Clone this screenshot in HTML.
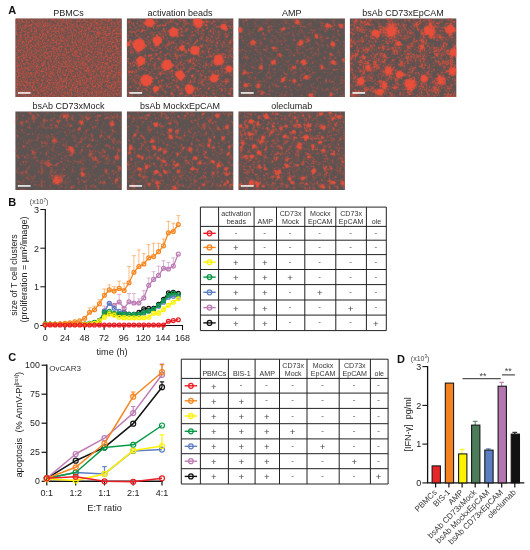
<!DOCTYPE html>
<html lang="en"><head><meta charset="utf-8"><title>Figure</title>
<style>html,body{margin:0;padding:0;background:#fff}svg{display:block}text{font-family:'Liberation Sans', sans-serif}</style>
</head><body>
<svg width="530" height="550" viewBox="0 0 530 550">
<rect width="530" height="550" fill="#fff"/>
<defs>
<radialGradient id="bh"><stop offset="0" stop-color="#000"/><stop offset="0.5" stop-color="#000"/><stop offset="0.7" stop-color="#000" stop-opacity="0.62"/><stop offset="0.85" stop-color="#000" stop-opacity="0.22"/><stop offset="1" stop-color="#000" stop-opacity="0"/></radialGradient>
<radialGradient id="bs"><stop offset="0" stop-color="#000"/><stop offset="0.25" stop-color="#000" stop-opacity="0.9"/><stop offset="0.5" stop-color="#000" stop-opacity="0.55"/><stop offset="0.75" stop-color="#000" stop-opacity="0.18"/><stop offset="1" stop-color="#000" stop-opacity="0"/></radialGradient>
</defs>
<filter id="mf0" filterUnits="userSpaceOnUse" x="14.4" y="17.5" width="108.4" height="80.5" color-interpolation-filters="sRGB">
<feTurbulence type="fractalNoise" baseFrequency="0.8" numOctaves="2" seed="3" result="n"/>
<feColorMatrix in="n" type="matrix" values="0 0 0 0 0 0 0 0 0 0 0 0 0 0 0 1 0 0 0 0" result="na"/>
<feTurbulence type="fractalNoise" baseFrequency="0.12" numOctaves="2" seed="53" result="l"/>
<feColorMatrix in="l" type="matrix" values="0 0 0 0 0 0 0 0 0 0 0 0 0 0 0 0 1 0 0 0" result="la"/>
<feComposite in="na" in2="la" operator="arithmetic" k1="0" k2="1.0" k3="0.0" k4="0" result="nl"/>
<feComposite in="nl" in2="SourceGraphic" operator="arithmetic" k1="0" k2="1" k3="0.0" k4="0" result="s"/>
<feComponentTransfer in="s" result="t"><feFuncA type="linear" slope="3.2" intercept="-1.264"/></feComponentTransfer>
<feFlood flood-color="#f34d37" flood-opacity="0.92" result="fl"/>
<feComposite in="fl" in2="t" operator="in" result="r"/>
<feConvolveMatrix in="r" order="3" kernelMatrix="1 2 1 2 14 2 1 2 1" divisor="26" edgeMode="duplicate" preserveAlpha="false"/>
</filter>
<rect x="15.4" y="18.5" width="106.4" height="78.5" fill="#595352"/>
<clipPath id="mc0"><rect x="15.4" y="18.5" width="106.4" height="78.5"/></clipPath>
<g clip-path="url(#mc0)"><g filter="url(#mf0)">
<rect x="14.4" y="17.5" width="108.4" height="80.5" fill="#000" fill-opacity="0.004"/>
</g></g>
<rect x="17.8" y="92.2" width="12.8" height="1.5" fill="#fff"/>
<text x="68.6" y="15.5" font-size="9" text-anchor="middle" fill="#222">PBMCs</text>
<filter id="mf1" filterUnits="userSpaceOnUse" x="125.9" y="17.5" width="108.4" height="80.5" color-interpolation-filters="sRGB">
<feTurbulence type="fractalNoise" baseFrequency="0.6" numOctaves="2" seed="7" result="n"/>
<feColorMatrix in="n" type="matrix" values="0 0 0 0 0 0 0 0 0 0 0 0 0 0 0 1 0 0 0 0" result="na"/>
<feTurbulence type="fractalNoise" baseFrequency="0.24" numOctaves="2" seed="57" result="l"/>
<feColorMatrix in="l" type="matrix" values="0 0 0 0 0 0 0 0 0 0 0 0 0 0 0 0 1 0 0 0" result="la"/>
<feComposite in="na" in2="la" operator="arithmetic" k1="0" k2="0.5" k3="0.3" k4="0" result="nl"/>
<feComposite in="nl" in2="SourceGraphic" operator="arithmetic" k1="0" k2="1" k3="0.4" k4="0" result="s"/>
<feComponentTransfer in="s" result="t"><feFuncA type="linear" slope="7" intercept="-2.786"/></feComponentTransfer>
<feFlood flood-color="#f34d37" flood-opacity="0.93" result="fl"/>
<feComposite in="fl" in2="t" operator="in" result="r"/>
<feConvolveMatrix in="r" order="3" kernelMatrix="1 2 1 2 14 2 1 2 1" divisor="26" edgeMode="duplicate" preserveAlpha="false"/>
</filter>
<rect x="126.9" y="18.5" width="106.4" height="78.5" fill="#595352"/>
<clipPath id="mc1"><rect x="126.9" y="18.5" width="106.4" height="78.5"/></clipPath>
<g clip-path="url(#mc1)"><g filter="url(#mf1)">
<rect x="125.9" y="17.5" width="108.4" height="80.5" fill="#000" fill-opacity="0.004"/>
<circle cx="149.4" cy="22.5" r="5.4" fill="url(#bh)"/>
<circle cx="198.2" cy="22.5" r="5.9" fill="url(#bh)"/>
<circle cx="224.0" cy="26.8" r="3.9" fill="url(#bh)"/>
<circle cx="139.0" cy="45.0" r="7.4" fill="url(#bh)"/>
<circle cx="157.3" cy="40.7" r="5.6" fill="url(#bh)"/>
<circle cx="173.9" cy="32.0" r="5.4" fill="url(#bh)"/>
<circle cx="195.0" cy="50.4" r="5.6" fill="url(#bh)"/>
<circle cx="182.0" cy="48.0" r="3.4" fill="url(#bh)"/>
<circle cx="141.0" cy="61.0" r="5.4" fill="url(#bh)"/>
<circle cx="167.0" cy="65.0" r="6.4" fill="url(#bh)"/>
<circle cx="218.6" cy="60.0" r="6.2" fill="url(#bh)"/>
<circle cx="180.0" cy="75.0" r="5.4" fill="url(#bh)"/>
<circle cx="229.4" cy="68.7" r="3.9" fill="url(#bh)"/>
<circle cx="146.6" cy="80.5" r="6.9" fill="url(#bh)"/>
<circle cx="189.6" cy="89.0" r="5.4" fill="url(#bh)"/>
<circle cx="214.0" cy="78.4" r="4.9" fill="url(#bh)"/>
<circle cx="156.0" cy="89.0" r="3.4" fill="url(#bh)"/>
<circle cx="128.0" cy="44.0" r="2.9" fill="url(#bh)"/>
</g></g>
<rect x="129.3" y="92.2" width="12.8" height="1.5" fill="#fff"/>
<text x="180.1" y="15.5" font-size="9" text-anchor="middle" fill="#222">activation beads</text>
<filter id="mf2" filterUnits="userSpaceOnUse" x="237.5" y="17.5" width="108.4" height="80.5" color-interpolation-filters="sRGB">
<feTurbulence type="fractalNoise" baseFrequency="0.65" numOctaves="2" seed="11" result="n"/>
<feColorMatrix in="n" type="matrix" values="0 0 0 0 0 0 0 0 0 0 0 0 0 0 0 1 0 0 0 0" result="na"/>
<feTurbulence type="fractalNoise" baseFrequency="0.25" numOctaves="2" seed="61" result="l"/>
<feColorMatrix in="l" type="matrix" values="0 0 0 0 0 0 0 0 0 0 0 0 0 0 0 0 1 0 0 0" result="la"/>
<feComposite in="na" in2="la" operator="arithmetic" k1="0" k2="0.5" k3="0.3" k4="0" result="nl"/>
<feComposite in="nl" in2="SourceGraphic" operator="arithmetic" k1="0" k2="1" k3="0.34" k4="0" result="s"/>
<feComponentTransfer in="s" result="t"><feFuncA type="linear" slope="5.5" intercept="-2.337"/></feComponentTransfer>
<feFlood flood-color="#f34d37" flood-opacity="0.93" result="fl"/>
<feComposite in="fl" in2="t" operator="in" result="r"/>
<feConvolveMatrix in="r" order="3" kernelMatrix="1 2 1 2 14 2 1 2 1" divisor="26" edgeMode="duplicate" preserveAlpha="false"/>
</filter>
<rect x="238.5" y="18.5" width="106.4" height="78.5" fill="#595352"/>
<clipPath id="mc2"><rect x="238.5" y="18.5" width="106.4" height="78.5"/></clipPath>
<g clip-path="url(#mc2)"><g filter="url(#mf2)">
<rect x="237.5" y="17.5" width="108.4" height="80.5" fill="#000" fill-opacity="0.004"/>
<circle cx="240.3" cy="30.0" r="4.0" fill="url(#bs)" fill-opacity="1.00"/>
<circle cx="297.3" cy="22.5" r="4.0" fill="url(#bs)" fill-opacity="1.00"/>
<circle cx="328.5" cy="25.7" r="4.6" fill="url(#bs)" fill-opacity="1.00"/>
<circle cx="341.4" cy="25.7" r="3.6" fill="url(#bs)" fill-opacity="0.98"/>
<circle cx="260.7" cy="28.9" r="3.1" fill="url(#bs)" fill-opacity="0.82"/>
<circle cx="283.3" cy="28.9" r="3.1" fill="url(#bs)" fill-opacity="0.82"/>
<circle cx="316.7" cy="36.4" r="3.6" fill="url(#bs)" fill-opacity="0.98"/>
<circle cx="253.2" cy="42.9" r="4.0" fill="url(#bs)" fill-opacity="1.00"/>
<circle cx="300.5" cy="42.9" r="4.4" fill="url(#bs)" fill-opacity="1.00"/>
<circle cx="307.0" cy="40.7" r="3.1" fill="url(#bs)" fill-opacity="0.82"/>
<circle cx="332.8" cy="44.0" r="3.6" fill="url(#bs)" fill-opacity="0.98"/>
<circle cx="273.6" cy="48.3" r="3.1" fill="url(#bs)" fill-opacity="0.82"/>
<circle cx="280.1" cy="54.7" r="3.1" fill="url(#bs)" fill-opacity="0.82"/>
<circle cx="273.6" cy="62.2" r="4.4" fill="url(#bs)" fill-opacity="1.00"/>
<circle cx="303.8" cy="62.2" r="4.4" fill="url(#bs)" fill-opacity="1.00"/>
<circle cx="333.9" cy="62.2" r="4.0" fill="url(#bs)" fill-opacity="1.00"/>
<circle cx="343.6" cy="60.1" r="3.1" fill="url(#bs)" fill-opacity="0.82"/>
<circle cx="260.7" cy="67.6" r="3.1" fill="url(#bs)" fill-opacity="0.82"/>
<circle cx="294.1" cy="67.6" r="3.1" fill="url(#bs)" fill-opacity="0.82"/>
<circle cx="244.6" cy="71.9" r="3.1" fill="url(#bs)" fill-opacity="0.82"/>
<circle cx="305.9" cy="77.3" r="4.0" fill="url(#bs)" fill-opacity="1.00"/>
<circle cx="283.3" cy="79.5" r="3.6" fill="url(#bs)" fill-opacity="0.98"/>
<circle cx="294.1" cy="80.5" r="3.1" fill="url(#bs)" fill-opacity="0.82"/>
<circle cx="245.7" cy="84.8" r="3.6" fill="url(#bs)" fill-opacity="0.98"/>
<circle cx="258.6" cy="85.9" r="3.6" fill="url(#bs)" fill-opacity="0.98"/>
<circle cx="261.8" cy="92.4" r="3.1" fill="url(#bs)" fill-opacity="0.82"/>
<circle cx="311.3" cy="95.6" r="3.6" fill="url(#bs)" fill-opacity="0.98"/>
<circle cx="330.6" cy="94.5" r="3.1" fill="url(#bs)" fill-opacity="0.82"/>
<circle cx="322.0" cy="67.6" r="3.1" fill="url(#bs)" fill-opacity="0.82"/>
<circle cx="330.6" cy="54.7" r="2.7" fill="url(#bs)" fill-opacity="0.62"/>
</g></g>
<rect x="240.9" y="92.2" width="12.8" height="1.5" fill="#fff"/>
<text x="291.7" y="15.5" font-size="9" text-anchor="middle" fill="#222">AMP</text>
<filter id="mf3" filterUnits="userSpaceOnUse" x="348.9" y="17.5" width="108.4" height="80.5" color-interpolation-filters="sRGB">
<feTurbulence type="fractalNoise" baseFrequency="0.65" numOctaves="2" seed="13" result="n"/>
<feColorMatrix in="n" type="matrix" values="0 0 0 0 0 0 0 0 0 0 0 0 0 0 0 1 0 0 0 0" result="na"/>
<feTurbulence type="fractalNoise" baseFrequency="0.15" numOctaves="2" seed="63" result="l"/>
<feColorMatrix in="l" type="matrix" values="0 0 0 0 0 0 0 0 0 0 0 0 0 0 0 0 1 0 0 0" result="la"/>
<feComposite in="na" in2="la" operator="arithmetic" k1="0" k2="0.5" k3="0.3" k4="0" result="nl"/>
<feComposite in="nl" in2="SourceGraphic" operator="arithmetic" k1="0" k2="1" k3="0.32" k4="0" result="s"/>
<feComponentTransfer in="s" result="t"><feFuncA type="linear" slope="8" intercept="-3.104"/></feComponentTransfer>
<feFlood flood-color="#f34d37" flood-opacity="0.93" result="fl"/>
<feComposite in="fl" in2="t" operator="in" result="r"/>
<feConvolveMatrix in="r" order="3" kernelMatrix="1 2 1 2 14 2 1 2 1" divisor="26" edgeMode="duplicate" preserveAlpha="false"/>
</filter>
<rect x="349.9" y="18.5" width="106.4" height="78.5" fill="#595352"/>
<clipPath id="mc3"><rect x="349.9" y="18.5" width="106.4" height="78.5"/></clipPath>
<g clip-path="url(#mc3)"><g filter="url(#mf3)">
<rect x="348.9" y="17.5" width="108.4" height="80.5" fill="#000" fill-opacity="0.004"/>
<circle cx="391.1" cy="31.1" r="8.8" fill="url(#bs)" fill-opacity="1.00"/>
<circle cx="376.0" cy="33.2" r="5.8" fill="url(#bs)" fill-opacity="1.00"/>
<circle cx="429.8" cy="31.1" r="8.2" fill="url(#bs)" fill-opacity="1.00"/>
<circle cx="450.2" cy="28.9" r="6.5" fill="url(#bs)" fill-opacity="1.00"/>
<circle cx="452.4" cy="52.6" r="6.5" fill="url(#bs)" fill-opacity="1.00"/>
<circle cx="453.5" cy="70.8" r="6.0" fill="url(#bs)" fill-opacity="1.00"/>
<circle cx="387.9" cy="70.8" r="5.7" fill="url(#bs)" fill-opacity="1.00"/>
<circle cx="399.7" cy="74.0" r="5.0" fill="url(#bs)" fill-opacity="1.00"/>
<circle cx="368.5" cy="67.6" r="4.3" fill="url(#bs)" fill-opacity="0.94"/>
<circle cx="410.5" cy="84.8" r="7.8" fill="url(#bs)" fill-opacity="1.00"/>
<circle cx="424.4" cy="78.4" r="5.0" fill="url(#bs)" fill-opacity="1.00"/>
<circle cx="440.6" cy="80.5" r="6.5" fill="url(#bs)" fill-opacity="1.00"/>
<circle cx="361.0" cy="80.5" r="5.7" fill="url(#bs)" fill-opacity="1.00"/>
<circle cx="384.6" cy="84.8" r="4.3" fill="url(#bs)" fill-opacity="0.94"/>
<circle cx="380.3" cy="92.4" r="5.0" fill="url(#bs)" fill-opacity="1.00"/>
<circle cx="422.3" cy="47.2" r="4.0" fill="url(#bs)" fill-opacity="0.83"/>
<circle cx="398.6" cy="44.0" r="3.5" fill="url(#bs)" fill-opacity="0.68"/>
<circle cx="364.2" cy="56.9" r="3.8" fill="url(#bs)" fill-opacity="0.76"/>
</g></g>
<rect x="352.3" y="92.2" width="12.8" height="1.5" fill="#fff"/>
<text x="403.1" y="15.5" font-size="9" text-anchor="middle" fill="#222">bsAb CD73xEpCAM</text>
<filter id="mf4" filterUnits="userSpaceOnUse" x="14.4" y="110.5" width="108.4" height="80.5" color-interpolation-filters="sRGB">
<feTurbulence type="fractalNoise" baseFrequency="0.65" numOctaves="2" seed="17" result="n"/>
<feColorMatrix in="n" type="matrix" values="0 0 0 0 0 0 0 0 0 0 0 0 0 0 0 1 0 0 0 0" result="na"/>
<feTurbulence type="fractalNoise" baseFrequency="0.2" numOctaves="2" seed="67" result="l"/>
<feColorMatrix in="l" type="matrix" values="0 0 0 0 0 0 0 0 0 0 0 0 0 0 0 0 1 0 0 0" result="la"/>
<feComposite in="na" in2="la" operator="arithmetic" k1="0" k2="0.5" k3="0.35" k4="0" result="nl"/>
<feComposite in="nl" in2="SourceGraphic" operator="arithmetic" k1="0" k2="1" k3="0.22" k4="0" result="s"/>
<feComponentTransfer in="s" result="t"><feFuncA type="linear" slope="5.5" intercept="-2.486"/></feComponentTransfer>
<feFlood flood-color="#f34d37" flood-opacity="0.93" result="fl"/>
<feComposite in="fl" in2="t" operator="in" result="r"/>
<feConvolveMatrix in="r" order="3" kernelMatrix="1 2 1 2 14 2 1 2 1" divisor="26" edgeMode="duplicate" preserveAlpha="false"/>
</filter>
<rect x="15.4" y="111.5" width="106.4" height="78.5" fill="#595352"/>
<clipPath id="mc4"><rect x="15.4" y="111.5" width="106.4" height="78.5"/></clipPath>
<g clip-path="url(#mc4)"><g filter="url(#mf4)">
<rect x="14.4" y="110.5" width="108.4" height="80.5" fill="#000" fill-opacity="0.004"/>
<circle cx="57.2" cy="179.0" r="7.8" fill="url(#bs)" fill-opacity="1.00"/>
<circle cx="71.2" cy="150.0" r="6.0" fill="url(#bs)" fill-opacity="1.00"/>
<circle cx="48.6" cy="164.0" r="5.0" fill="url(#bs)" fill-opacity="1.00"/>
<circle cx="54.0" cy="140.3" r="4.3" fill="url(#bs)" fill-opacity="0.94"/>
<circle cx="65.8" cy="115.5" r="4.3" fill="url(#bs)" fill-opacity="0.94"/>
<circle cx="33.5" cy="117.7" r="3.8" fill="url(#bs)" fill-opacity="0.76"/>
<circle cx="112.0" cy="124.0" r="4.3" fill="url(#bs)" fill-opacity="0.94"/>
<circle cx="94.8" cy="158.5" r="3.8" fill="url(#bs)" fill-opacity="0.76"/>
<circle cx="83.0" cy="174.7" r="4.3" fill="url(#bs)" fill-opacity="0.94"/>
<circle cx="33.5" cy="153.0" r="3.5" fill="url(#bs)" fill-opacity="0.68"/>
<circle cx="58.0" cy="121.0" r="3.5" fill="url(#bs)" fill-opacity="0.68"/>
<circle cx="55.9" cy="164.5" r="3.4" fill="url(#bs)" fill-opacity="0.60"/>
<circle cx="79.8" cy="129.5" r="3.5" fill="url(#bs)" fill-opacity="0.68"/>
<circle cx="104.8" cy="151.4" r="3.2" fill="url(#bs)" fill-opacity="0.56"/>
<circle cx="87.9" cy="118.6" r="3.5" fill="url(#bs)" fill-opacity="0.68"/>
<circle cx="61.1" cy="130.7" r="2.6" fill="url(#bs)" fill-opacity="0.31"/>
<circle cx="119.2" cy="168.2" r="3.6" fill="url(#bs)" fill-opacity="0.72"/>
<circle cx="81.2" cy="122.1" r="3.6" fill="url(#bs)" fill-opacity="0.72"/>
<circle cx="71.4" cy="125.0" r="3.5" fill="url(#bs)" fill-opacity="0.68"/>
<circle cx="85.4" cy="138.9" r="3.1" fill="url(#bs)" fill-opacity="0.51"/>
<circle cx="117.0" cy="179.7" r="3.5" fill="url(#bs)" fill-opacity="0.64"/>
<circle cx="101.4" cy="156.5" r="3.5" fill="url(#bs)" fill-opacity="0.64"/>
<circle cx="52.7" cy="148.7" r="3.5" fill="url(#bs)" fill-opacity="0.68"/>
<circle cx="74.5" cy="140.5" r="3.1" fill="url(#bs)" fill-opacity="0.51"/>
<circle cx="72.7" cy="187.1" r="3.0" fill="url(#bs)" fill-opacity="0.47"/>
<circle cx="45.4" cy="120.4" r="3.5" fill="url(#bs)" fill-opacity="0.64"/>
<circle cx="118.9" cy="150.2" r="3.1" fill="url(#bs)" fill-opacity="0.51"/>
<circle cx="85.2" cy="168.9" r="2.9" fill="url(#bs)" fill-opacity="0.39"/>
<circle cx="89.7" cy="154.7" r="3.4" fill="url(#bs)" fill-opacity="0.60"/>
<circle cx="57.1" cy="126.1" r="3.0" fill="url(#bs)" fill-opacity="0.47"/>
<circle cx="113.9" cy="139.1" r="3.4" fill="url(#bs)" fill-opacity="0.60"/>
<circle cx="66.7" cy="121.1" r="2.8" fill="url(#bs)" fill-opacity="0.35"/>
<circle cx="105.2" cy="171.0" r="3.0" fill="url(#bs)" fill-opacity="0.47"/>
<circle cx="116.5" cy="157.2" r="3.6" fill="url(#bs)" fill-opacity="0.72"/>
<circle cx="80.7" cy="141.3" r="3.0" fill="url(#bs)" fill-opacity="0.43"/>
<circle cx="107.0" cy="117.4" r="3.0" fill="url(#bs)" fill-opacity="0.43"/>
<circle cx="65.4" cy="144.5" r="2.9" fill="url(#bs)" fill-opacity="0.39"/>
<circle cx="98.8" cy="115.6" r="2.9" fill="url(#bs)" fill-opacity="0.39"/>
<circle cx="89.1" cy="145.0" r="3.2" fill="url(#bs)" fill-opacity="0.56"/>
<circle cx="107.9" cy="136.3" r="3.2" fill="url(#bs)" fill-opacity="0.56"/>
<circle cx="64.4" cy="170.4" r="2.6" fill="url(#bs)" fill-opacity="0.31"/>
</g></g>
<rect x="17.8" y="185.2" width="12.8" height="1.5" fill="#fff"/>
<text x="68.6" y="108.5" font-size="9" text-anchor="middle" fill="#222">bsAb CD73xMock</text>
<filter id="mf5" filterUnits="userSpaceOnUse" x="125.9" y="110.5" width="108.4" height="80.5" color-interpolation-filters="sRGB">
<feTurbulence type="fractalNoise" baseFrequency="0.65" numOctaves="2" seed="19" result="n"/>
<feColorMatrix in="n" type="matrix" values="0 0 0 0 0 0 0 0 0 0 0 0 0 0 0 1 0 0 0 0" result="na"/>
<feTurbulence type="fractalNoise" baseFrequency="0.25" numOctaves="2" seed="69" result="l"/>
<feColorMatrix in="l" type="matrix" values="0 0 0 0 0 0 0 0 0 0 0 0 0 0 0 0 1 0 0 0" result="la"/>
<feComposite in="na" in2="la" operator="arithmetic" k1="0" k2="0.5" k3="0.35" k4="0" result="nl"/>
<feComposite in="nl" in2="SourceGraphic" operator="arithmetic" k1="0" k2="1" k3="0.3" k4="0" result="s"/>
<feComponentTransfer in="s" result="t"><feFuncA type="linear" slope="5.5" intercept="-2.448"/></feComponentTransfer>
<feFlood flood-color="#f34d37" flood-opacity="0.93" result="fl"/>
<feComposite in="fl" in2="t" operator="in" result="r"/>
<feConvolveMatrix in="r" order="3" kernelMatrix="1 2 1 2 14 2 1 2 1" divisor="26" edgeMode="duplicate" preserveAlpha="false"/>
</filter>
<rect x="126.9" y="111.5" width="106.4" height="78.5" fill="#595352"/>
<clipPath id="mc5"><rect x="126.9" y="111.5" width="106.4" height="78.5"/></clipPath>
<g clip-path="url(#mc5)"><g filter="url(#mf5)">
<rect x="125.9" y="110.5" width="108.4" height="80.5" fill="#000" fill-opacity="0.004"/>
<circle cx="192.7" cy="168.9" r="3.3" fill="url(#bs)" fill-opacity="0.90"/>
<circle cx="225.9" cy="168.7" r="3.5" fill="url(#bs)" fill-opacity="0.96"/>
<circle cx="130.9" cy="147.9" r="3.6" fill="url(#bs)" fill-opacity="0.98"/>
<circle cx="195.4" cy="181.0" r="2.3" fill="url(#bs)" fill-opacity="0.40"/>
<circle cx="176.7" cy="131.2" r="2.8" fill="url(#bs)" fill-opacity="0.68"/>
<circle cx="187.6" cy="113.5" r="2.4" fill="url(#bs)" fill-opacity="0.46"/>
<circle cx="157.0" cy="182.1" r="3.2" fill="url(#bs)" fill-opacity="0.86"/>
<circle cx="144.5" cy="173.1" r="2.4" fill="url(#bs)" fill-opacity="0.46"/>
<circle cx="192.1" cy="122.1" r="2.3" fill="url(#bs)" fill-opacity="0.40"/>
<circle cx="218.5" cy="128.4" r="2.4" fill="url(#bs)" fill-opacity="0.46"/>
<circle cx="230.1" cy="178.8" r="2.5" fill="url(#bs)" fill-opacity="0.51"/>
<circle cx="227.9" cy="153.5" r="3.1" fill="url(#bs)" fill-opacity="0.82"/>
<circle cx="149.2" cy="184.0" r="3.1" fill="url(#bs)" fill-opacity="0.82"/>
<circle cx="165.5" cy="125.1" r="2.4" fill="url(#bs)" fill-opacity="0.46"/>
<circle cx="134.7" cy="135.4" r="2.9" fill="url(#bs)" fill-opacity="0.73"/>
<circle cx="128.3" cy="164.0" r="2.5" fill="url(#bs)" fill-opacity="0.51"/>
<circle cx="160.1" cy="174.7" r="2.7" fill="url(#bs)" fill-opacity="0.62"/>
<circle cx="160.7" cy="149.1" r="3.1" fill="url(#bs)" fill-opacity="0.82"/>
<circle cx="133.8" cy="186.6" r="2.3" fill="url(#bs)" fill-opacity="0.40"/>
<circle cx="205.9" cy="176.7" r="2.3" fill="url(#bs)" fill-opacity="0.40"/>
<circle cx="209.8" cy="140.3" r="2.9" fill="url(#bs)" fill-opacity="0.73"/>
<circle cx="128.8" cy="116.1" r="2.4" fill="url(#bs)" fill-opacity="0.46"/>
<circle cx="227.2" cy="127.4" r="3.2" fill="url(#bs)" fill-opacity="0.86"/>
<circle cx="224.6" cy="184.1" r="2.6" fill="url(#bs)" fill-opacity="0.57"/>
<circle cx="164.8" cy="152.4" r="3.2" fill="url(#bs)" fill-opacity="0.86"/>
<circle cx="139.1" cy="169.4" r="3.3" fill="url(#bs)" fill-opacity="0.90"/>
<circle cx="217.3" cy="115.3" r="3.6" fill="url(#bs)" fill-opacity="0.98"/>
<circle cx="223.4" cy="138.3" r="3.5" fill="url(#bs)" fill-opacity="0.96"/>
<circle cx="184.6" cy="136.2" r="2.5" fill="url(#bs)" fill-opacity="0.51"/>
<circle cx="146.4" cy="118.4" r="2.4" fill="url(#bs)" fill-opacity="0.46"/>
<circle cx="199.6" cy="188.3" r="2.4" fill="url(#bs)" fill-opacity="0.46"/>
<circle cx="170.1" cy="130.5" r="2.9" fill="url(#bs)" fill-opacity="0.73"/>
<circle cx="213.8" cy="147.1" r="2.7" fill="url(#bs)" fill-opacity="0.62"/>
<circle cx="133.7" cy="182.1" r="2.3" fill="url(#bs)" fill-opacity="0.40"/>
<circle cx="179.2" cy="176.2" r="2.4" fill="url(#bs)" fill-opacity="0.46"/>
<circle cx="204.0" cy="184.7" r="3.0" fill="url(#bs)" fill-opacity="0.77"/>
<circle cx="209.9" cy="120.6" r="2.7" fill="url(#bs)" fill-opacity="0.62"/>
<circle cx="143.4" cy="176.7" r="2.5" fill="url(#bs)" fill-opacity="0.51"/>
<circle cx="175.0" cy="188.4" r="3.4" fill="url(#bs)" fill-opacity="0.93"/>
<circle cx="229.4" cy="147.0" r="2.7" fill="url(#bs)" fill-opacity="0.62"/>
<circle cx="203.8" cy="148.9" r="2.5" fill="url(#bs)" fill-opacity="0.51"/>
<circle cx="169.9" cy="123.6" r="2.6" fill="url(#bs)" fill-opacity="0.57"/>
<circle cx="230.7" cy="185.4" r="3.0" fill="url(#bs)" fill-opacity="0.77"/>
<circle cx="179.8" cy="138.2" r="2.3" fill="url(#bs)" fill-opacity="0.40"/>
<circle cx="156.2" cy="171.9" r="3.4" fill="url(#bs)" fill-opacity="0.93"/>
<circle cx="165.5" cy="172.2" r="3.2" fill="url(#bs)" fill-opacity="0.86"/>
<circle cx="200.1" cy="163.0" r="3.2" fill="url(#bs)" fill-opacity="0.86"/>
<circle cx="165.7" cy="166.0" r="2.5" fill="url(#bs)" fill-opacity="0.51"/>
<circle cx="178.4" cy="171.0" r="3.1" fill="url(#bs)" fill-opacity="0.82"/>
<circle cx="154.0" cy="163.5" r="2.7" fill="url(#bs)" fill-opacity="0.62"/>
<circle cx="212.8" cy="161.7" r="3.3" fill="url(#bs)" fill-opacity="0.90"/>
<circle cx="164.1" cy="161.4" r="3.2" fill="url(#bs)" fill-opacity="0.86"/>
<circle cx="218.4" cy="164.8" r="3.6" fill="url(#bs)" fill-opacity="0.98"/>
<circle cx="177.5" cy="165.0" r="3.1" fill="url(#bs)" fill-opacity="0.82"/>
<circle cx="203.9" cy="125.6" r="3.2" fill="url(#bs)" fill-opacity="0.86"/>
<circle cx="188.3" cy="163.1" r="2.7" fill="url(#bs)" fill-opacity="0.62"/>
<circle cx="202.8" cy="114.6" r="2.4" fill="url(#bs)" fill-opacity="0.46"/>
<circle cx="173.8" cy="161.9" r="2.4" fill="url(#bs)" fill-opacity="0.46"/>
<circle cx="141.8" cy="136.6" r="2.4" fill="url(#bs)" fill-opacity="0.46"/>
<circle cx="148.0" cy="115.2" r="2.7" fill="url(#bs)" fill-opacity="0.62"/>
<circle cx="152.6" cy="181.1" r="2.3" fill="url(#bs)" fill-opacity="0.40"/>
<circle cx="139.9" cy="175.7" r="2.6" fill="url(#bs)" fill-opacity="0.57"/>
<circle cx="131.7" cy="159.1" r="2.3" fill="url(#bs)" fill-opacity="0.40"/>
<circle cx="227.6" cy="174.7" r="2.6" fill="url(#bs)" fill-opacity="0.57"/>
<circle cx="142.7" cy="157.8" r="2.9" fill="url(#bs)" fill-opacity="0.73"/>
<circle cx="164.4" cy="180.4" r="2.3" fill="url(#bs)" fill-opacity="0.40"/>
<circle cx="139.1" cy="155.5" r="2.9" fill="url(#bs)" fill-opacity="0.73"/>
<circle cx="167.0" cy="145.3" r="2.4" fill="url(#bs)" fill-opacity="0.46"/>
<circle cx="158.2" cy="186.4" r="2.6" fill="url(#bs)" fill-opacity="0.57"/>
<circle cx="227.9" cy="181.9" r="2.9" fill="url(#bs)" fill-opacity="0.73"/>
<circle cx="171.1" cy="136.8" r="3.7" fill="url(#bs)" fill-opacity="1.00"/>
<circle cx="129.3" cy="153.0" r="2.5" fill="url(#bs)" fill-opacity="0.51"/>
<circle cx="155.7" cy="124.3" r="3.7" fill="url(#bs)" fill-opacity="1.00"/>
<circle cx="158.4" cy="158.7" r="2.7" fill="url(#bs)" fill-opacity="0.62"/>
<circle cx="195.0" cy="158.4" r="3.2" fill="url(#bs)" fill-opacity="0.86"/>
<circle cx="183.0" cy="147.8" r="2.6" fill="url(#bs)" fill-opacity="0.57"/>
<circle cx="205.4" cy="157.4" r="2.3" fill="url(#bs)" fill-opacity="0.40"/>
<circle cx="154.2" cy="147.1" r="3.5" fill="url(#bs)" fill-opacity="0.96"/>
<circle cx="220.2" cy="154.0" r="2.3" fill="url(#bs)" fill-opacity="0.40"/>
<circle cx="208.9" cy="145.0" r="2.9" fill="url(#bs)" fill-opacity="0.73"/>
<circle cx="200.1" cy="145.4" r="2.5" fill="url(#bs)" fill-opacity="0.51"/>
<circle cx="209.1" cy="181.7" r="2.4" fill="url(#bs)" fill-opacity="0.46"/>
<circle cx="177.7" cy="154.2" r="2.8" fill="url(#bs)" fill-opacity="0.68"/>
<circle cx="212.3" cy="117.7" r="2.4" fill="url(#bs)" fill-opacity="0.46"/>
<circle cx="213.1" cy="172.7" r="3.0" fill="url(#bs)" fill-opacity="0.77"/>
<circle cx="231.7" cy="165.8" r="2.3" fill="url(#bs)" fill-opacity="0.40"/>
<circle cx="191.4" cy="144.0" r="2.4" fill="url(#bs)" fill-opacity="0.46"/>
<circle cx="192.6" cy="115.8" r="2.3" fill="url(#bs)" fill-opacity="0.40"/>
<circle cx="167.3" cy="118.0" r="2.3" fill="url(#bs)" fill-opacity="0.40"/>
<circle cx="141.9" cy="145.3" r="2.5" fill="url(#bs)" fill-opacity="0.51"/>
<circle cx="190.3" cy="149.7" r="3.6" fill="url(#bs)" fill-opacity="0.98"/>
<circle cx="155.3" cy="154.4" r="2.5" fill="url(#bs)" fill-opacity="0.51"/>
<circle cx="206.0" cy="151.8" r="2.4" fill="url(#bs)" fill-opacity="0.46"/>
<circle cx="152.3" cy="140.7" r="3.2" fill="url(#bs)" fill-opacity="0.86"/>
<circle cx="146.5" cy="166.7" r="3.0" fill="url(#bs)" fill-opacity="0.77"/>
</g></g>
<rect x="129.3" y="185.2" width="12.8" height="1.5" fill="#fff"/>
<text x="180.1" y="108.5" font-size="9" text-anchor="middle" fill="#222">bsAb MockxEpCAM</text>
<filter id="mf6" filterUnits="userSpaceOnUse" x="237.5" y="110.5" width="108.4" height="80.5" color-interpolation-filters="sRGB">
<feTurbulence type="fractalNoise" baseFrequency="0.65" numOctaves="2" seed="23" result="n"/>
<feColorMatrix in="n" type="matrix" values="0 0 0 0 0 0 0 0 0 0 0 0 0 0 0 1 0 0 0 0" result="na"/>
<feTurbulence type="fractalNoise" baseFrequency="0.25" numOctaves="2" seed="73" result="l"/>
<feColorMatrix in="l" type="matrix" values="0 0 0 0 0 0 0 0 0 0 0 0 0 0 0 0 1 0 0 0" result="la"/>
<feComposite in="na" in2="la" operator="arithmetic" k1="0" k2="0.5" k3="0.35" k4="0" result="nl"/>
<feComposite in="nl" in2="SourceGraphic" operator="arithmetic" k1="0" k2="1" k3="0.3" k4="0" result="s"/>
<feComponentTransfer in="s" result="t"><feFuncA type="linear" slope="5.5" intercept="-2.376"/></feComponentTransfer>
<feFlood flood-color="#f34d37" flood-opacity="0.93" result="fl"/>
<feComposite in="fl" in2="t" operator="in" result="r"/>
<feConvolveMatrix in="r" order="3" kernelMatrix="1 2 1 2 14 2 1 2 1" divisor="26" edgeMode="duplicate" preserveAlpha="false"/>
</filter>
<rect x="238.5" y="111.5" width="106.4" height="78.5" fill="#595352"/>
<clipPath id="mc6"><rect x="238.5" y="111.5" width="106.4" height="78.5"/></clipPath>
<g clip-path="url(#mc6)"><g filter="url(#mf6)">
<rect x="237.5" y="110.5" width="108.4" height="80.5" fill="#000" fill-opacity="0.004"/>
<circle cx="252.0" cy="183.0" r="4.6" fill="url(#bs)" fill-opacity="1.00"/>
<circle cx="278.0" cy="172.5" r="4.4" fill="url(#bs)" fill-opacity="1.00"/>
<circle cx="299.5" cy="145.6" r="4.4" fill="url(#bs)" fill-opacity="1.00"/>
<circle cx="284.5" cy="136.0" r="3.4" fill="url(#bs)" fill-opacity="0.93"/>
<circle cx="287.7" cy="140.9" r="2.4" fill="url(#bs)" fill-opacity="0.46"/>
<circle cx="329.6" cy="113.0" r="2.9" fill="url(#bs)" fill-opacity="0.73"/>
<circle cx="332.9" cy="118.6" r="3.0" fill="url(#bs)" fill-opacity="0.77"/>
<circle cx="303.6" cy="115.6" r="2.7" fill="url(#bs)" fill-opacity="0.62"/>
<circle cx="312.7" cy="146.9" r="3.3" fill="url(#bs)" fill-opacity="0.90"/>
<circle cx="255.8" cy="130.6" r="2.4" fill="url(#bs)" fill-opacity="0.46"/>
<circle cx="292.2" cy="182.7" r="3.0" fill="url(#bs)" fill-opacity="0.77"/>
<circle cx="320.0" cy="141.7" r="3.4" fill="url(#bs)" fill-opacity="0.93"/>
<circle cx="250.1" cy="134.6" r="3.2" fill="url(#bs)" fill-opacity="0.86"/>
<circle cx="267.2" cy="128.5" r="2.5" fill="url(#bs)" fill-opacity="0.51"/>
<circle cx="323.7" cy="127.7" r="3.7" fill="url(#bs)" fill-opacity="1.00"/>
<circle cx="290.6" cy="114.3" r="2.7" fill="url(#bs)" fill-opacity="0.62"/>
<circle cx="252.1" cy="156.5" r="3.7" fill="url(#bs)" fill-opacity="1.00"/>
<circle cx="260.6" cy="113.1" r="2.3" fill="url(#bs)" fill-opacity="0.40"/>
<circle cx="295.6" cy="113.8" r="2.3" fill="url(#bs)" fill-opacity="0.40"/>
<circle cx="280.9" cy="161.0" r="2.3" fill="url(#bs)" fill-opacity="0.40"/>
<circle cx="299.8" cy="125.6" r="3.1" fill="url(#bs)" fill-opacity="0.82"/>
<circle cx="339.2" cy="116.6" r="3.0" fill="url(#bs)" fill-opacity="0.77"/>
<circle cx="343.0" cy="188.3" r="2.4" fill="url(#bs)" fill-opacity="0.46"/>
<circle cx="312.9" cy="184.8" r="2.5" fill="url(#bs)" fill-opacity="0.51"/>
<circle cx="309.6" cy="157.4" r="3.4" fill="url(#bs)" fill-opacity="0.93"/>
<circle cx="300.3" cy="146.8" r="2.7" fill="url(#bs)" fill-opacity="0.62"/>
<circle cx="342.1" cy="156.2" r="2.3" fill="url(#bs)" fill-opacity="0.40"/>
<circle cx="322.6" cy="137.5" r="2.7" fill="url(#bs)" fill-opacity="0.62"/>
<circle cx="261.7" cy="146.2" r="2.6" fill="url(#bs)" fill-opacity="0.57"/>
<circle cx="248.7" cy="160.3" r="2.3" fill="url(#bs)" fill-opacity="0.40"/>
<circle cx="321.0" cy="114.4" r="3.4" fill="url(#bs)" fill-opacity="0.93"/>
<circle cx="323.5" cy="150.3" r="3.3" fill="url(#bs)" fill-opacity="0.90"/>
<circle cx="265.3" cy="168.6" r="2.7" fill="url(#bs)" fill-opacity="0.62"/>
<circle cx="263.5" cy="185.8" r="2.7" fill="url(#bs)" fill-opacity="0.62"/>
<circle cx="278.3" cy="177.9" r="2.6" fill="url(#bs)" fill-opacity="0.57"/>
<circle cx="308.9" cy="125.5" r="3.6" fill="url(#bs)" fill-opacity="0.98"/>
<circle cx="266.4" cy="116.3" r="3.9" fill="url(#bs)" fill-opacity="1.00"/>
<circle cx="257.5" cy="184.4" r="4.0" fill="url(#bs)" fill-opacity="1.00"/>
<circle cx="261.2" cy="142.1" r="3.1" fill="url(#bs)" fill-opacity="0.82"/>
<circle cx="340.0" cy="139.4" r="2.4" fill="url(#bs)" fill-opacity="0.46"/>
<circle cx="297.3" cy="165.4" r="2.3" fill="url(#bs)" fill-opacity="0.40"/>
<circle cx="286.4" cy="166.0" r="3.4" fill="url(#bs)" fill-opacity="0.93"/>
<circle cx="313.9" cy="171.1" r="3.7" fill="url(#bs)" fill-opacity="1.00"/>
<circle cx="290.9" cy="120.0" r="2.3" fill="url(#bs)" fill-opacity="0.40"/>
<circle cx="294.5" cy="125.7" r="3.1" fill="url(#bs)" fill-opacity="0.82"/>
<circle cx="248.3" cy="171.8" r="2.5" fill="url(#bs)" fill-opacity="0.51"/>
<circle cx="240.9" cy="125.9" r="2.8" fill="url(#bs)" fill-opacity="0.68"/>
<circle cx="297.7" cy="142.0" r="2.4" fill="url(#bs)" fill-opacity="0.46"/>
<circle cx="332.0" cy="153.9" r="2.9" fill="url(#bs)" fill-opacity="0.73"/>
<circle cx="306.4" cy="153.7" r="2.5" fill="url(#bs)" fill-opacity="0.51"/>
<circle cx="325.1" cy="167.9" r="3.1" fill="url(#bs)" fill-opacity="0.82"/>
<circle cx="303.3" cy="164.0" r="2.7" fill="url(#bs)" fill-opacity="0.62"/>
<circle cx="246.7" cy="126.9" r="3.1" fill="url(#bs)" fill-opacity="0.82"/>
<circle cx="258.4" cy="117.4" r="2.6" fill="url(#bs)" fill-opacity="0.57"/>
<circle cx="288.4" cy="153.2" r="2.3" fill="url(#bs)" fill-opacity="0.40"/>
<circle cx="240.4" cy="185.0" r="3.0" fill="url(#bs)" fill-opacity="0.77"/>
<circle cx="250.5" cy="139.0" r="2.5" fill="url(#bs)" fill-opacity="0.51"/>
<circle cx="251.0" cy="121.6" r="3.8" fill="url(#bs)" fill-opacity="1.00"/>
<circle cx="305.5" cy="130.4" r="2.5" fill="url(#bs)" fill-opacity="0.51"/>
<circle cx="328.1" cy="158.5" r="2.5" fill="url(#bs)" fill-opacity="0.51"/>
<circle cx="245.6" cy="133.4" r="2.5" fill="url(#bs)" fill-opacity="0.51"/>
<circle cx="322.7" cy="186.6" r="3.5" fill="url(#bs)" fill-opacity="0.96"/>
<circle cx="333.3" cy="183.2" r="3.7" fill="url(#bs)" fill-opacity="1.00"/>
<circle cx="272.5" cy="131.3" r="3.1" fill="url(#bs)" fill-opacity="0.82"/>
<circle cx="281.0" cy="128.4" r="2.5" fill="url(#bs)" fill-opacity="0.51"/>
<circle cx="287.5" cy="158.9" r="3.0" fill="url(#bs)" fill-opacity="0.77"/>
<circle cx="285.3" cy="126.7" r="2.7" fill="url(#bs)" fill-opacity="0.62"/>
<circle cx="273.3" cy="125.5" r="2.9" fill="url(#bs)" fill-opacity="0.73"/>
<circle cx="259.1" cy="166.6" r="3.2" fill="url(#bs)" fill-opacity="0.86"/>
<circle cx="331.4" cy="168.2" r="2.4" fill="url(#bs)" fill-opacity="0.46"/>
<circle cx="295.9" cy="138.0" r="2.3" fill="url(#bs)" fill-opacity="0.40"/>
<circle cx="273.2" cy="175.9" r="2.9" fill="url(#bs)" fill-opacity="0.73"/>
<circle cx="249.8" cy="167.0" r="2.5" fill="url(#bs)" fill-opacity="0.51"/>
<circle cx="295.0" cy="117.9" r="2.3" fill="url(#bs)" fill-opacity="0.40"/>
<circle cx="335.3" cy="115.7" r="2.4" fill="url(#bs)" fill-opacity="0.46"/>
<circle cx="343.0" cy="161.8" r="2.7" fill="url(#bs)" fill-opacity="0.62"/>
<circle cx="311.3" cy="139.8" r="2.5" fill="url(#bs)" fill-opacity="0.51"/>
<circle cx="272.8" cy="141.8" r="2.4" fill="url(#bs)" fill-opacity="0.46"/>
<circle cx="303.2" cy="178.5" r="3.0" fill="url(#bs)" fill-opacity="0.77"/>
<circle cx="240.5" cy="164.5" r="2.3" fill="url(#bs)" fill-opacity="0.40"/>
<circle cx="289.3" cy="178.3" r="3.2" fill="url(#bs)" fill-opacity="0.86"/>
<circle cx="254.4" cy="146.8" r="3.2" fill="url(#bs)" fill-opacity="0.86"/>
<circle cx="263.6" cy="137.7" r="3.4" fill="url(#bs)" fill-opacity="0.93"/>
<circle cx="275.7" cy="158.2" r="2.9" fill="url(#bs)" fill-opacity="0.73"/>
<circle cx="320.5" cy="163.4" r="2.3" fill="url(#bs)" fill-opacity="0.40"/>
<circle cx="333.3" cy="129.0" r="2.4" fill="url(#bs)" fill-opacity="0.46"/>
<circle cx="343.4" cy="183.6" r="3.3" fill="url(#bs)" fill-opacity="0.90"/>
<circle cx="280.9" cy="147.7" r="3.1" fill="url(#bs)" fill-opacity="0.82"/>
<circle cx="258.9" cy="152.9" r="3.8" fill="url(#bs)" fill-opacity="1.00"/>
<circle cx="269.0" cy="122.4" r="2.5" fill="url(#bs)" fill-opacity="0.51"/>
<circle cx="243.3" cy="143.3" r="3.4" fill="url(#bs)" fill-opacity="0.93"/>
<circle cx="286.7" cy="185.8" r="2.3" fill="url(#bs)" fill-opacity="0.40"/>
<circle cx="257.5" cy="123.4" r="3.0" fill="url(#bs)" fill-opacity="0.77"/>
<circle cx="335.4" cy="124.1" r="2.7" fill="url(#bs)" fill-opacity="0.62"/>
<circle cx="293.6" cy="131.8" r="3.1" fill="url(#bs)" fill-opacity="0.82"/>
<circle cx="241.1" cy="147.8" r="2.4" fill="url(#bs)" fill-opacity="0.46"/>
<circle cx="305.7" cy="183.7" r="2.6" fill="url(#bs)" fill-opacity="0.57"/>
<circle cx="305.9" cy="137.1" r="3.8" fill="url(#bs)" fill-opacity="1.00"/>
<circle cx="245.6" cy="156.0" r="2.9" fill="url(#bs)" fill-opacity="0.73"/>
</g></g>
<rect x="240.9" y="185.2" width="12.8" height="1.5" fill="#fff"/>
<text x="291.7" y="108.5" font-size="9" text-anchor="middle" fill="#222">oleclumab</text>
<g>
<text x="8.3" y="14.4" font-size="11" font-weight="bold" fill="#111">A</text>
<text x="8.3" y="205.6" font-size="11" font-weight="bold" fill="#111">B</text>
<text x="8.3" y="361.2" font-size="11" font-weight="bold" fill="#111">C</text>
<text x="397" y="362.8" font-size="11" font-weight="bold" fill="#111">D</text>
<path d="M45.3 209.0V325.5H183.0" stroke="#111" stroke-width="1.15" fill="none"/>
<path d="M40.3 325.5H45.3" stroke="#111" stroke-width="1.0"/>
<text transform="translate(38.9 329.0) scale(0.92 1)" font-size="9.8" text-anchor="end" fill="#222">0</text>
<path d="M40.3 286.8H45.3" stroke="#111" stroke-width="1.0"/>
<text transform="translate(38.9 290.3) scale(0.92 1)" font-size="9.8" text-anchor="end" fill="#222">1</text>
<path d="M40.3 248.2H45.3" stroke="#111" stroke-width="1.0"/>
<text transform="translate(38.9 251.7) scale(0.92 1)" font-size="9.8" text-anchor="end" fill="#222">2</text>
<path d="M40.3 209.5H45.3" stroke="#111" stroke-width="1.0"/>
<text transform="translate(38.9 213.0) scale(0.92 1)" font-size="9.8" text-anchor="end" fill="#222">3</text>
<path d="M45.3 325.5V330.1" stroke="#111" stroke-width="1.1"/>
<text transform="translate(45.3 340.7) scale(0.92 1)" font-size="9.8" text-anchor="middle" fill="#222">0</text>
<path d="M64.9 325.5V330.1" stroke="#111" stroke-width="1.1"/>
<text transform="translate(64.9 340.7) scale(0.92 1)" font-size="9.8" text-anchor="middle" fill="#222">24</text>
<path d="M84.5 325.5V330.1" stroke="#111" stroke-width="1.1"/>
<text transform="translate(84.5 340.7) scale(0.92 1)" font-size="9.8" text-anchor="middle" fill="#222">48</text>
<path d="M104.1 325.5V330.1" stroke="#111" stroke-width="1.1"/>
<text transform="translate(104.1 340.7) scale(0.92 1)" font-size="9.8" text-anchor="middle" fill="#222">72</text>
<path d="M123.7 325.5V330.1" stroke="#111" stroke-width="1.1"/>
<text transform="translate(123.7 340.7) scale(0.92 1)" font-size="9.8" text-anchor="middle" fill="#222">96</text>
<path d="M143.3 325.5V330.1" stroke="#111" stroke-width="1.1"/>
<text transform="translate(143.3 340.7) scale(0.92 1)" font-size="9.8" text-anchor="middle" fill="#222">120</text>
<path d="M162.9 325.5V330.1" stroke="#111" stroke-width="1.1"/>
<text transform="translate(162.9 340.7) scale(0.92 1)" font-size="9.8" text-anchor="middle" fill="#222">144</text>
<path d="M182.5 325.5V330.1" stroke="#111" stroke-width="1.1"/>
<text transform="translate(182.5 340.7) scale(0.92 1)" font-size="9.8" text-anchor="middle" fill="#222">168</text>
<text x="112.1" y="354.7" font-size="9.2" text-anchor="middle" fill="#222">time (h)</text>
<text x="29.8" y="204.4" font-size="7" fill="#444">(x10<tspan font-size="4.5" dy="-2.4">7</tspan><tspan dy="2.4">)</tspan></text>
<text transform="translate(17.4 275) rotate(-90)" font-size="8.8" text-anchor="middle" fill="#222">size of T cell clusters</text>
<text transform="translate(27.2 269.6) rotate(-90)" font-size="9" text-anchor="middle" fill="#222">(proliferation = µm²/image)</text>
<path d="M45.3 324.3L50.2 324.3L55.1 324.3L60.1 324.3L65.0 324.3L69.9 324.3L74.8 324.3L79.8 324.3L84.7 324.3L89.6 323.8L94.5 322.8L99.5 320.8L104.4 313.3L109.3 313.3L114.2 314.3L119.2 314.3L124.1 312.3L129.0 314.3L133.9 314.3L138.9 312.3L143.8 308.8L148.7 308.3L153.6 308.3L158.6 304.2L163.5 299.2L168.4 292.7L173.3 292.2L178.3 293.2" stroke="#111111" stroke-width="1.3" fill="none" stroke-linejoin="round"/><circle cx="45.3" cy="324.3" r="1.95" stroke="#111111" stroke-width="1.25" fill="none"/><circle cx="50.2" cy="324.3" r="1.95" stroke="#111111" stroke-width="1.25" fill="none"/><circle cx="55.1" cy="324.3" r="1.95" stroke="#111111" stroke-width="1.25" fill="none"/><circle cx="60.1" cy="324.3" r="1.95" stroke="#111111" stroke-width="1.25" fill="none"/><circle cx="65.0" cy="324.3" r="1.95" stroke="#111111" stroke-width="1.25" fill="none"/><circle cx="69.9" cy="324.3" r="1.95" stroke="#111111" stroke-width="1.25" fill="none"/><circle cx="74.8" cy="324.3" r="1.95" stroke="#111111" stroke-width="1.25" fill="none"/><circle cx="79.8" cy="324.3" r="1.95" stroke="#111111" stroke-width="1.25" fill="none"/><circle cx="84.7" cy="324.3" r="1.95" stroke="#111111" stroke-width="1.25" fill="none"/><circle cx="89.6" cy="323.8" r="1.95" stroke="#111111" stroke-width="1.25" fill="none"/><circle cx="94.5" cy="322.8" r="1.95" stroke="#111111" stroke-width="1.25" fill="none"/><circle cx="99.5" cy="320.8" r="1.95" stroke="#111111" stroke-width="1.25" fill="none"/><circle cx="104.4" cy="313.3" r="1.95" stroke="#111111" stroke-width="1.25" fill="none"/><circle cx="109.3" cy="313.3" r="1.95" stroke="#111111" stroke-width="1.25" fill="none"/><circle cx="114.2" cy="314.3" r="1.95" stroke="#111111" stroke-width="1.25" fill="none"/><circle cx="119.2" cy="314.3" r="1.95" stroke="#111111" stroke-width="1.25" fill="none"/><circle cx="124.1" cy="312.3" r="1.95" stroke="#111111" stroke-width="1.25" fill="none"/><circle cx="129.0" cy="314.3" r="1.95" stroke="#111111" stroke-width="1.25" fill="none"/><circle cx="133.9" cy="314.3" r="1.95" stroke="#111111" stroke-width="1.25" fill="none"/><circle cx="138.9" cy="312.3" r="1.95" stroke="#111111" stroke-width="1.25" fill="none"/><circle cx="143.8" cy="308.8" r="1.95" stroke="#111111" stroke-width="1.25" fill="none"/><circle cx="148.7" cy="308.3" r="1.95" stroke="#111111" stroke-width="1.25" fill="none"/><circle cx="153.6" cy="308.3" r="1.95" stroke="#111111" stroke-width="1.25" fill="none"/><circle cx="158.6" cy="304.2" r="1.95" stroke="#111111" stroke-width="1.25" fill="none"/><circle cx="163.5" cy="299.2" r="1.95" stroke="#111111" stroke-width="1.25" fill="none"/><circle cx="168.4" cy="292.7" r="1.95" stroke="#111111" stroke-width="1.25" fill="none"/><circle cx="173.3" cy="292.2" r="1.95" stroke="#111111" stroke-width="1.25" fill="none"/><circle cx="178.3" cy="293.2" r="1.95" stroke="#111111" stroke-width="1.25" fill="none"/>
<path d="M104.4 310.7V306.2M102.4 306.2H106.4" stroke="#bd7cb5" stroke-width="0.91" fill="none" opacity="0.6"/><path d="M119.2 302.0V294.4M117.2 294.4H121.2" stroke="#bd7cb5" stroke-width="0.91" fill="none" opacity="0.6"/><path d="M129.0 301.8V293.5M127.0 293.5H131.0" stroke="#bd7cb5" stroke-width="0.91" fill="none" opacity="0.6"/><path d="M133.9 303.0V293.5M131.9 293.5H135.9" stroke="#bd7cb5" stroke-width="0.91" fill="none" opacity="0.6"/><path d="M138.9 303.0V298.9M136.9 298.9H140.9" stroke="#bd7cb5" stroke-width="0.91" fill="none" opacity="0.6"/><path d="M143.8 297.9V290.6M141.8 290.6H145.8" stroke="#bd7cb5" stroke-width="0.91" fill="none" opacity="0.6"/><path d="M148.7 285.3V278.0M146.7 278.0H150.7" stroke="#bd7cb5" stroke-width="0.91" fill="none" opacity="0.6"/><path d="M153.6 279.4V271.7M151.6 271.7H155.6" stroke="#bd7cb5" stroke-width="0.91" fill="none" opacity="0.6"/><path d="M158.6 275.4V266.1M156.6 266.1H160.6" stroke="#bd7cb5" stroke-width="0.91" fill="none" opacity="0.6"/><path d="M163.5 268.2V260.7M161.5 260.7H165.5" stroke="#bd7cb5" stroke-width="0.91" fill="none" opacity="0.6"/><path d="M168.4 269.0V262.4M166.4 262.4H170.4" stroke="#bd7cb5" stroke-width="0.91" fill="none" opacity="0.6"/><path d="M173.3 266.1V257.8M171.3 257.8H175.3" stroke="#bd7cb5" stroke-width="0.91" fill="none" opacity="0.6"/><path d="M45.3 324.3L50.2 324.3L55.1 324.3L60.1 324.3L65.0 324.3L69.9 324.3L74.8 324.3L79.8 324.3L84.7 324.3L89.6 323.8L94.5 323.3L99.5 322.3L104.4 310.7L109.3 303.5L114.2 305.4L119.2 302.0L124.1 308.3L129.0 301.8L133.9 303.0L138.9 303.0L143.8 297.9L148.7 285.3L153.6 279.4L158.6 275.4L163.5 268.2L168.4 269.0L173.3 266.1L178.3 254.1" stroke="#bd7cb5" stroke-width="1.3" fill="none" stroke-linejoin="round"/><circle cx="45.3" cy="324.3" r="1.95" stroke="#bd7cb5" stroke-width="1.25" fill="none"/><circle cx="50.2" cy="324.3" r="1.95" stroke="#bd7cb5" stroke-width="1.25" fill="none"/><circle cx="55.1" cy="324.3" r="1.95" stroke="#bd7cb5" stroke-width="1.25" fill="none"/><circle cx="60.1" cy="324.3" r="1.95" stroke="#bd7cb5" stroke-width="1.25" fill="none"/><circle cx="65.0" cy="324.3" r="1.95" stroke="#bd7cb5" stroke-width="1.25" fill="none"/><circle cx="69.9" cy="324.3" r="1.95" stroke="#bd7cb5" stroke-width="1.25" fill="none"/><circle cx="74.8" cy="324.3" r="1.95" stroke="#bd7cb5" stroke-width="1.25" fill="none"/><circle cx="79.8" cy="324.3" r="1.95" stroke="#bd7cb5" stroke-width="1.25" fill="none"/><circle cx="84.7" cy="324.3" r="1.95" stroke="#bd7cb5" stroke-width="1.25" fill="none"/><circle cx="89.6" cy="323.8" r="1.95" stroke="#bd7cb5" stroke-width="1.25" fill="none"/><circle cx="94.5" cy="323.3" r="1.95" stroke="#bd7cb5" stroke-width="1.25" fill="none"/><circle cx="99.5" cy="322.3" r="1.95" stroke="#bd7cb5" stroke-width="1.25" fill="none"/><circle cx="104.4" cy="310.7" r="1.95" stroke="#bd7cb5" stroke-width="1.25" fill="none"/><circle cx="109.3" cy="303.5" r="1.95" stroke="#bd7cb5" stroke-width="1.25" fill="none"/><circle cx="114.2" cy="305.4" r="1.95" stroke="#bd7cb5" stroke-width="1.25" fill="none"/><circle cx="119.2" cy="302.0" r="1.95" stroke="#bd7cb5" stroke-width="1.25" fill="none"/><circle cx="124.1" cy="308.3" r="1.95" stroke="#bd7cb5" stroke-width="1.25" fill="none"/><circle cx="129.0" cy="301.8" r="1.95" stroke="#bd7cb5" stroke-width="1.25" fill="none"/><circle cx="133.9" cy="303.0" r="1.95" stroke="#bd7cb5" stroke-width="1.25" fill="none"/><circle cx="138.9" cy="303.0" r="1.95" stroke="#bd7cb5" stroke-width="1.25" fill="none"/><circle cx="143.8" cy="297.9" r="1.95" stroke="#bd7cb5" stroke-width="1.25" fill="none"/><circle cx="148.7" cy="285.3" r="1.95" stroke="#bd7cb5" stroke-width="1.25" fill="none"/><circle cx="153.6" cy="279.4" r="1.95" stroke="#bd7cb5" stroke-width="1.25" fill="none"/><circle cx="158.6" cy="275.4" r="1.95" stroke="#bd7cb5" stroke-width="1.25" fill="none"/><circle cx="163.5" cy="268.2" r="1.95" stroke="#bd7cb5" stroke-width="1.25" fill="none"/><circle cx="168.4" cy="269.0" r="1.95" stroke="#bd7cb5" stroke-width="1.25" fill="none"/><circle cx="173.3" cy="266.1" r="1.95" stroke="#bd7cb5" stroke-width="1.25" fill="none"/><circle cx="178.3" cy="254.1" r="1.95" stroke="#bd7cb5" stroke-width="1.25" fill="none"/>
<path d="M45.3 324.3L50.2 324.3L55.1 324.3L60.1 324.3L65.0 324.3L69.9 324.3L74.8 324.3L79.8 324.3L84.7 324.3L89.6 323.8L94.5 322.8L99.5 320.3L104.4 311.3L109.3 303.2L114.2 308.3L119.2 311.3L124.1 313.3L129.0 314.3L133.9 314.8L138.9 314.8L143.8 313.3L148.7 311.3L153.6 309.3L158.6 306.2L163.5 302.2L168.4 297.2L173.3 296.2L178.3 297.2" stroke="#5f7fc4" stroke-width="1.3" fill="none" stroke-linejoin="round"/><circle cx="45.3" cy="324.3" r="1.95" stroke="#5f7fc4" stroke-width="1.25" fill="none"/><circle cx="50.2" cy="324.3" r="1.95" stroke="#5f7fc4" stroke-width="1.25" fill="none"/><circle cx="55.1" cy="324.3" r="1.95" stroke="#5f7fc4" stroke-width="1.25" fill="none"/><circle cx="60.1" cy="324.3" r="1.95" stroke="#5f7fc4" stroke-width="1.25" fill="none"/><circle cx="65.0" cy="324.3" r="1.95" stroke="#5f7fc4" stroke-width="1.25" fill="none"/><circle cx="69.9" cy="324.3" r="1.95" stroke="#5f7fc4" stroke-width="1.25" fill="none"/><circle cx="74.8" cy="324.3" r="1.95" stroke="#5f7fc4" stroke-width="1.25" fill="none"/><circle cx="79.8" cy="324.3" r="1.95" stroke="#5f7fc4" stroke-width="1.25" fill="none"/><circle cx="84.7" cy="324.3" r="1.95" stroke="#5f7fc4" stroke-width="1.25" fill="none"/><circle cx="89.6" cy="323.8" r="1.95" stroke="#5f7fc4" stroke-width="1.25" fill="none"/><circle cx="94.5" cy="322.8" r="1.95" stroke="#5f7fc4" stroke-width="1.25" fill="none"/><circle cx="99.5" cy="320.3" r="1.95" stroke="#5f7fc4" stroke-width="1.25" fill="none"/><circle cx="104.4" cy="311.3" r="1.95" stroke="#5f7fc4" stroke-width="1.25" fill="none"/><circle cx="109.3" cy="303.2" r="1.95" stroke="#5f7fc4" stroke-width="1.25" fill="none"/><circle cx="114.2" cy="308.3" r="1.95" stroke="#5f7fc4" stroke-width="1.25" fill="none"/><circle cx="119.2" cy="311.3" r="1.95" stroke="#5f7fc4" stroke-width="1.25" fill="none"/><circle cx="124.1" cy="313.3" r="1.95" stroke="#5f7fc4" stroke-width="1.25" fill="none"/><circle cx="129.0" cy="314.3" r="1.95" stroke="#5f7fc4" stroke-width="1.25" fill="none"/><circle cx="133.9" cy="314.8" r="1.95" stroke="#5f7fc4" stroke-width="1.25" fill="none"/><circle cx="138.9" cy="314.8" r="1.95" stroke="#5f7fc4" stroke-width="1.25" fill="none"/><circle cx="143.8" cy="313.3" r="1.95" stroke="#5f7fc4" stroke-width="1.25" fill="none"/><circle cx="148.7" cy="311.3" r="1.95" stroke="#5f7fc4" stroke-width="1.25" fill="none"/><circle cx="153.6" cy="309.3" r="1.95" stroke="#5f7fc4" stroke-width="1.25" fill="none"/><circle cx="158.6" cy="306.2" r="1.95" stroke="#5f7fc4" stroke-width="1.25" fill="none"/><circle cx="163.5" cy="302.2" r="1.95" stroke="#5f7fc4" stroke-width="1.25" fill="none"/><circle cx="168.4" cy="297.2" r="1.95" stroke="#5f7fc4" stroke-width="1.25" fill="none"/><circle cx="173.3" cy="296.2" r="1.95" stroke="#5f7fc4" stroke-width="1.25" fill="none"/><circle cx="178.3" cy="297.2" r="1.95" stroke="#5f7fc4" stroke-width="1.25" fill="none"/>
<path d="M45.3 323.5L50.2 324.1L55.1 324.3L60.1 324.3L65.0 324.3L69.9 324.3L74.8 324.3L79.8 324.3L84.7 324.1L89.6 323.3L94.5 322.3L99.5 320.3L104.4 312.3L109.3 311.3L114.2 313.3L119.2 313.8L124.1 314.3L129.0 314.3L133.9 314.3L138.9 314.3L143.8 312.3L148.7 310.8L153.6 309.3L158.6 305.2L163.5 300.7L168.4 295.2L173.3 293.2L178.3 294.7" stroke="#0a9a47" stroke-width="1.3" fill="none" stroke-linejoin="round"/><circle cx="45.3" cy="323.5" r="1.95" stroke="#0a9a47" stroke-width="1.25" fill="none"/><circle cx="50.2" cy="324.1" r="1.95" stroke="#0a9a47" stroke-width="1.25" fill="none"/><circle cx="55.1" cy="324.3" r="1.95" stroke="#0a9a47" stroke-width="1.25" fill="none"/><circle cx="60.1" cy="324.3" r="1.95" stroke="#0a9a47" stroke-width="1.25" fill="none"/><circle cx="65.0" cy="324.3" r="1.95" stroke="#0a9a47" stroke-width="1.25" fill="none"/><circle cx="69.9" cy="324.3" r="1.95" stroke="#0a9a47" stroke-width="1.25" fill="none"/><circle cx="74.8" cy="324.3" r="1.95" stroke="#0a9a47" stroke-width="1.25" fill="none"/><circle cx="79.8" cy="324.3" r="1.95" stroke="#0a9a47" stroke-width="1.25" fill="none"/><circle cx="84.7" cy="324.1" r="1.95" stroke="#0a9a47" stroke-width="1.25" fill="none"/><circle cx="89.6" cy="323.3" r="1.95" stroke="#0a9a47" stroke-width="1.25" fill="none"/><circle cx="94.5" cy="322.3" r="1.95" stroke="#0a9a47" stroke-width="1.25" fill="none"/><circle cx="99.5" cy="320.3" r="1.95" stroke="#0a9a47" stroke-width="1.25" fill="none"/><circle cx="104.4" cy="312.3" r="1.95" stroke="#0a9a47" stroke-width="1.25" fill="none"/><circle cx="109.3" cy="311.3" r="1.95" stroke="#0a9a47" stroke-width="1.25" fill="none"/><circle cx="114.2" cy="313.3" r="1.95" stroke="#0a9a47" stroke-width="1.25" fill="none"/><circle cx="119.2" cy="313.8" r="1.95" stroke="#0a9a47" stroke-width="1.25" fill="none"/><circle cx="124.1" cy="314.3" r="1.95" stroke="#0a9a47" stroke-width="1.25" fill="none"/><circle cx="129.0" cy="314.3" r="1.95" stroke="#0a9a47" stroke-width="1.25" fill="none"/><circle cx="133.9" cy="314.3" r="1.95" stroke="#0a9a47" stroke-width="1.25" fill="none"/><circle cx="138.9" cy="314.3" r="1.95" stroke="#0a9a47" stroke-width="1.25" fill="none"/><circle cx="143.8" cy="312.3" r="1.95" stroke="#0a9a47" stroke-width="1.25" fill="none"/><circle cx="148.7" cy="310.8" r="1.95" stroke="#0a9a47" stroke-width="1.25" fill="none"/><circle cx="153.6" cy="309.3" r="1.95" stroke="#0a9a47" stroke-width="1.25" fill="none"/><circle cx="158.6" cy="305.2" r="1.95" stroke="#0a9a47" stroke-width="1.25" fill="none"/><circle cx="163.5" cy="300.7" r="1.95" stroke="#0a9a47" stroke-width="1.25" fill="none"/><circle cx="168.4" cy="295.2" r="1.95" stroke="#0a9a47" stroke-width="1.25" fill="none"/><circle cx="173.3" cy="293.2" r="1.95" stroke="#0a9a47" stroke-width="1.25" fill="none"/><circle cx="178.3" cy="294.7" r="1.95" stroke="#0a9a47" stroke-width="1.25" fill="none"/>
<path d="M104.4 317.3V314.3M102.4 314.3H106.4" stroke="#fff200" stroke-width="0.91" fill="none" opacity="0.6"/><path d="M109.3 314.3V311.3M107.3 311.3H111.3" stroke="#fff200" stroke-width="0.91" fill="none" opacity="0.6"/><path d="M114.2 315.3V312.3M112.2 312.3H116.2" stroke="#fff200" stroke-width="0.91" fill="none" opacity="0.6"/><path d="M124.1 317.8V315.3M122.1 315.3H126.1" stroke="#fff200" stroke-width="0.91" fill="none" opacity="0.6"/><path d="M148.7 317.3V314.8M146.7 314.8H150.7" stroke="#fff200" stroke-width="0.91" fill="none" opacity="0.6"/><path d="M158.6 313.3V310.3M156.6 310.3H160.6" stroke="#fff200" stroke-width="0.91" fill="none" opacity="0.6"/><path d="M163.5 309.8V306.7M161.5 306.7H165.5" stroke="#fff200" stroke-width="0.91" fill="none" opacity="0.6"/><path d="M45.3 324.3L50.2 324.3L55.1 324.3L60.1 324.3L65.0 324.3L69.9 324.3L74.8 324.3L79.8 324.3L84.7 324.3L89.6 323.8L94.5 323.3L99.5 320.8L104.4 317.3L109.3 314.3L114.2 315.3L119.2 317.3L124.1 317.8L129.0 317.8L133.9 317.8L138.9 317.8L143.8 317.8L148.7 317.3L153.6 313.3L158.6 313.3L163.5 309.8L168.4 305.2L173.3 302.2L178.3 298.7" stroke="#fff200" stroke-width="1.3" fill="none" stroke-linejoin="round"/><circle cx="45.3" cy="324.3" r="1.95" stroke="#fff200" stroke-width="1.25" fill="none"/><circle cx="50.2" cy="324.3" r="1.95" stroke="#fff200" stroke-width="1.25" fill="none"/><circle cx="55.1" cy="324.3" r="1.95" stroke="#fff200" stroke-width="1.25" fill="none"/><circle cx="60.1" cy="324.3" r="1.95" stroke="#fff200" stroke-width="1.25" fill="none"/><circle cx="65.0" cy="324.3" r="1.95" stroke="#fff200" stroke-width="1.25" fill="none"/><circle cx="69.9" cy="324.3" r="1.95" stroke="#fff200" stroke-width="1.25" fill="none"/><circle cx="74.8" cy="324.3" r="1.95" stroke="#fff200" stroke-width="1.25" fill="none"/><circle cx="79.8" cy="324.3" r="1.95" stroke="#fff200" stroke-width="1.25" fill="none"/><circle cx="84.7" cy="324.3" r="1.95" stroke="#fff200" stroke-width="1.25" fill="none"/><circle cx="89.6" cy="323.8" r="1.95" stroke="#fff200" stroke-width="1.25" fill="none"/><circle cx="94.5" cy="323.3" r="1.95" stroke="#fff200" stroke-width="1.25" fill="none"/><circle cx="99.5" cy="320.8" r="1.95" stroke="#fff200" stroke-width="1.25" fill="none"/><circle cx="104.4" cy="317.3" r="1.95" stroke="#fff200" stroke-width="1.25" fill="none"/><circle cx="109.3" cy="314.3" r="1.95" stroke="#fff200" stroke-width="1.25" fill="none"/><circle cx="114.2" cy="315.3" r="1.95" stroke="#fff200" stroke-width="1.25" fill="none"/><circle cx="119.2" cy="317.3" r="1.95" stroke="#fff200" stroke-width="1.25" fill="none"/><circle cx="124.1" cy="317.8" r="1.95" stroke="#fff200" stroke-width="1.25" fill="none"/><circle cx="129.0" cy="317.8" r="1.95" stroke="#fff200" stroke-width="1.25" fill="none"/><circle cx="133.9" cy="317.8" r="1.95" stroke="#fff200" stroke-width="1.25" fill="none"/><circle cx="138.9" cy="317.8" r="1.95" stroke="#fff200" stroke-width="1.25" fill="none"/><circle cx="143.8" cy="317.8" r="1.95" stroke="#fff200" stroke-width="1.25" fill="none"/><circle cx="148.7" cy="317.3" r="1.95" stroke="#fff200" stroke-width="1.25" fill="none"/><circle cx="153.6" cy="313.3" r="1.95" stroke="#fff200" stroke-width="1.25" fill="none"/><circle cx="158.6" cy="313.3" r="1.95" stroke="#fff200" stroke-width="1.25" fill="none"/><circle cx="163.5" cy="309.8" r="1.95" stroke="#fff200" stroke-width="1.25" fill="none"/><circle cx="168.4" cy="305.2" r="1.95" stroke="#fff200" stroke-width="1.25" fill="none"/><circle cx="173.3" cy="302.2" r="1.95" stroke="#fff200" stroke-width="1.25" fill="none"/><circle cx="178.3" cy="298.7" r="1.95" stroke="#fff200" stroke-width="1.25" fill="none"/>
<path d="M89.6 312.3V307.8M87.6 307.8H91.6" stroke="#f6861f" stroke-width="0.91" fill="none" opacity="0.6"/><path d="M94.5 309.8V306.2M92.5 306.2H96.5" stroke="#f6861f" stroke-width="0.91" fill="none" opacity="0.6"/><path d="M99.5 303.7V299.7M97.5 299.7H101.5" stroke="#f6861f" stroke-width="0.91" fill="none" opacity="0.6"/><path d="M104.4 295.3V289.0M102.4 289.0H106.4" stroke="#f6861f" stroke-width="0.91" fill="none" opacity="0.6"/><path d="M109.3 289.9V284.9M107.3 284.9H111.3" stroke="#f6861f" stroke-width="0.91" fill="none" opacity="0.6"/><path d="M114.2 291.1V286.7M112.2 286.7H116.2" stroke="#f6861f" stroke-width="0.91" fill="none" opacity="0.6"/><path d="M119.2 288.4V281.1M117.2 281.1H121.2" stroke="#f6861f" stroke-width="0.91" fill="none" opacity="0.6"/><path d="M124.1 290.5V283.2M122.1 283.2H126.1" stroke="#f6861f" stroke-width="0.91" fill="none" opacity="0.6"/><path d="M129.0 282.8V266.5M127.0 266.5H131.0" stroke="#f6861f" stroke-width="0.91" fill="none" opacity="0.6"/><path d="M133.9 272.3V255.7M131.9 255.7H135.9" stroke="#f6861f" stroke-width="0.91" fill="none" opacity="0.6"/><path d="M138.9 266.5V249.9M136.9 249.9H140.9" stroke="#f6861f" stroke-width="0.91" fill="none" opacity="0.6"/><path d="M143.8 264.0V253.6M141.8 253.6H145.8" stroke="#f6861f" stroke-width="0.91" fill="none" opacity="0.6"/><path d="M148.7 257.8V244.7M146.7 244.7H150.7" stroke="#f6861f" stroke-width="0.91" fill="none" opacity="0.6"/><path d="M153.6 256.6V243.3M151.6 243.3H155.6" stroke="#f6861f" stroke-width="0.91" fill="none" opacity="0.6"/><path d="M158.6 251.6V243.3M156.6 243.3H160.6" stroke="#f6861f" stroke-width="0.91" fill="none" opacity="0.6"/><path d="M163.5 245.8V239.0M161.5 239.0H165.5" stroke="#f6861f" stroke-width="0.91" fill="none" opacity="0.6"/><path d="M168.4 232.8V221.4M166.4 221.4H170.4" stroke="#f6861f" stroke-width="0.91" fill="none" opacity="0.6"/><path d="M173.3 231.5V223.2M171.3 223.2H175.3" stroke="#f6861f" stroke-width="0.91" fill="none" opacity="0.6"/><path d="M178.3 224.5V215.6M176.3 215.6H180.3" stroke="#f6861f" stroke-width="0.91" fill="none" opacity="0.6"/><path d="M45.3 324.3L50.2 324.3L55.1 324.1L60.1 323.8L65.0 323.3L69.9 322.9L74.8 321.8L79.8 320.8L84.7 318.3L89.6 312.3L94.5 309.8L99.5 303.7L104.4 295.3L109.3 289.9L114.2 291.1L119.2 288.4L124.1 290.5L129.0 282.8L133.9 272.3L138.9 266.5L143.8 264.0L148.7 257.8L153.6 256.6L158.6 251.6L163.5 245.8L168.4 232.8L173.3 231.5L178.3 224.5" stroke="#f6861f" stroke-width="1.3" fill="none" stroke-linejoin="round"/><circle cx="45.3" cy="324.3" r="1.95" stroke="#f6861f" stroke-width="1.25" fill="none"/><circle cx="50.2" cy="324.3" r="1.95" stroke="#f6861f" stroke-width="1.25" fill="none"/><circle cx="55.1" cy="324.1" r="1.95" stroke="#f6861f" stroke-width="1.25" fill="none"/><circle cx="60.1" cy="323.8" r="1.95" stroke="#f6861f" stroke-width="1.25" fill="none"/><circle cx="65.0" cy="323.3" r="1.95" stroke="#f6861f" stroke-width="1.25" fill="none"/><circle cx="69.9" cy="322.9" r="1.95" stroke="#f6861f" stroke-width="1.25" fill="none"/><circle cx="74.8" cy="321.8" r="1.95" stroke="#f6861f" stroke-width="1.25" fill="none"/><circle cx="79.8" cy="320.8" r="1.95" stroke="#f6861f" stroke-width="1.25" fill="none"/><circle cx="84.7" cy="318.3" r="1.95" stroke="#f6861f" stroke-width="1.25" fill="none"/><circle cx="89.6" cy="312.3" r="1.95" stroke="#f6861f" stroke-width="1.25" fill="none"/><circle cx="94.5" cy="309.8" r="1.95" stroke="#f6861f" stroke-width="1.25" fill="none"/><circle cx="99.5" cy="303.7" r="1.95" stroke="#f6861f" stroke-width="1.25" fill="none"/><circle cx="104.4" cy="295.3" r="1.95" stroke="#f6861f" stroke-width="1.25" fill="none"/><circle cx="109.3" cy="289.9" r="1.95" stroke="#f6861f" stroke-width="1.25" fill="none"/><circle cx="114.2" cy="291.1" r="1.95" stroke="#f6861f" stroke-width="1.25" fill="none"/><circle cx="119.2" cy="288.4" r="1.95" stroke="#f6861f" stroke-width="1.25" fill="none"/><circle cx="124.1" cy="290.5" r="1.95" stroke="#f6861f" stroke-width="1.25" fill="none"/><circle cx="129.0" cy="282.8" r="1.95" stroke="#f6861f" stroke-width="1.25" fill="none"/><circle cx="133.9" cy="272.3" r="1.95" stroke="#f6861f" stroke-width="1.25" fill="none"/><circle cx="138.9" cy="266.5" r="1.95" stroke="#f6861f" stroke-width="1.25" fill="none"/><circle cx="143.8" cy="264.0" r="1.95" stroke="#f6861f" stroke-width="1.25" fill="none"/><circle cx="148.7" cy="257.8" r="1.95" stroke="#f6861f" stroke-width="1.25" fill="none"/><circle cx="153.6" cy="256.6" r="1.95" stroke="#f6861f" stroke-width="1.25" fill="none"/><circle cx="158.6" cy="251.6" r="1.95" stroke="#f6861f" stroke-width="1.25" fill="none"/><circle cx="163.5" cy="245.8" r="1.95" stroke="#f6861f" stroke-width="1.25" fill="none"/><circle cx="168.4" cy="232.8" r="1.95" stroke="#f6861f" stroke-width="1.25" fill="none"/><circle cx="173.3" cy="231.5" r="1.95" stroke="#f6861f" stroke-width="1.25" fill="none"/><circle cx="178.3" cy="224.5" r="1.95" stroke="#f6861f" stroke-width="1.25" fill="none"/>
<path d="M45.3 325.0L50.2 325.0L55.1 325.0L60.1 325.0L65.0 325.0L69.9 325.0L74.8 325.0L79.8 325.0L84.7 325.0L89.6 325.0L94.5 325.0L99.5 325.0L104.4 325.0L109.3 325.0L114.2 325.0L119.2 325.0L124.1 325.0L129.0 325.0L133.9 325.0L138.9 325.0L143.8 325.0L148.7 325.0L153.6 325.0L158.6 325.0L163.5 325.0L168.4 321.3L173.3 320.6L178.3 319.7" stroke="#ed1c24" stroke-width="1.3" fill="none" stroke-linejoin="round"/><circle cx="45.3" cy="325.0" r="1.95" stroke="#ed1c24" stroke-width="1.25" fill="none"/><circle cx="50.2" cy="325.0" r="1.95" stroke="#ed1c24" stroke-width="1.25" fill="none"/><circle cx="55.1" cy="325.0" r="1.95" stroke="#ed1c24" stroke-width="1.25" fill="none"/><circle cx="60.1" cy="325.0" r="1.95" stroke="#ed1c24" stroke-width="1.25" fill="none"/><circle cx="65.0" cy="325.0" r="1.95" stroke="#ed1c24" stroke-width="1.25" fill="none"/><circle cx="69.9" cy="325.0" r="1.95" stroke="#ed1c24" stroke-width="1.25" fill="none"/><circle cx="74.8" cy="325.0" r="1.95" stroke="#ed1c24" stroke-width="1.25" fill="none"/><circle cx="79.8" cy="325.0" r="1.95" stroke="#ed1c24" stroke-width="1.25" fill="none"/><circle cx="84.7" cy="325.0" r="1.95" stroke="#ed1c24" stroke-width="1.25" fill="none"/><circle cx="89.6" cy="325.0" r="1.95" stroke="#ed1c24" stroke-width="1.25" fill="none"/><circle cx="94.5" cy="325.0" r="1.95" stroke="#ed1c24" stroke-width="1.25" fill="none"/><circle cx="99.5" cy="325.0" r="1.95" stroke="#ed1c24" stroke-width="1.25" fill="none"/><circle cx="104.4" cy="325.0" r="1.95" stroke="#ed1c24" stroke-width="1.25" fill="none"/><circle cx="109.3" cy="325.0" r="1.95" stroke="#ed1c24" stroke-width="1.25" fill="none"/><circle cx="114.2" cy="325.0" r="1.95" stroke="#ed1c24" stroke-width="1.25" fill="none"/><circle cx="119.2" cy="325.0" r="1.95" stroke="#ed1c24" stroke-width="1.25" fill="none"/><circle cx="124.1" cy="325.0" r="1.95" stroke="#ed1c24" stroke-width="1.25" fill="none"/><circle cx="129.0" cy="325.0" r="1.95" stroke="#ed1c24" stroke-width="1.25" fill="none"/><circle cx="133.9" cy="325.0" r="1.95" stroke="#ed1c24" stroke-width="1.25" fill="none"/><circle cx="138.9" cy="325.0" r="1.95" stroke="#ed1c24" stroke-width="1.25" fill="none"/><circle cx="143.8" cy="325.0" r="1.95" stroke="#ed1c24" stroke-width="1.25" fill="none"/><circle cx="148.7" cy="325.0" r="1.95" stroke="#ed1c24" stroke-width="1.25" fill="none"/><circle cx="153.6" cy="325.0" r="1.95" stroke="#ed1c24" stroke-width="1.25" fill="none"/><circle cx="158.6" cy="325.0" r="1.95" stroke="#ed1c24" stroke-width="1.25" fill="none"/><circle cx="163.5" cy="325.0" r="1.95" stroke="#ed1c24" stroke-width="1.25" fill="none"/><circle cx="168.4" cy="321.3" r="1.95" stroke="#ed1c24" stroke-width="1.25" fill="none"/><circle cx="173.3" cy="320.6" r="1.95" stroke="#ed1c24" stroke-width="1.25" fill="none"/><circle cx="178.3" cy="319.7" r="1.95" stroke="#ed1c24" stroke-width="1.25" fill="none"/>
<path d="M200.4 207.1V330.6M218.6 207.1V330.6M254.1 207.1V330.6M276.5 207.1V330.6M304.8 207.1V330.6M335.8 207.1V330.6M366.4 207.1V330.6M386.3 207.1V330.6M200.4 207.1H386.3M200.4 226.4H386.3M200.4 240.2H386.3M200.4 254.6H386.3M200.4 269.5H386.3M200.4 284.6H386.3M200.4 300H386.3M200.4 315.1H386.3M200.4 330.6H386.3" stroke="#222" stroke-width="1" fill="none"/>
<text x="236.3" y="216.1" font-size="7.1" text-anchor="middle" fill="#333">activation</text>
<text x="236.3" y="223.5" font-size="7.1" text-anchor="middle" fill="#333">beads</text>
<text x="265.3" y="223.5" font-size="7.1" text-anchor="middle" fill="#333">AMP</text>
<text x="290.6" y="216.1" font-size="7.1" text-anchor="middle" fill="#333">CD73x</text>
<text x="290.6" y="223.5" font-size="7.1" text-anchor="middle" fill="#333">Mock</text>
<text x="320.3" y="216.1" font-size="7.1" text-anchor="middle" fill="#333">Mockx</text>
<text x="320.3" y="223.5" font-size="7.1" text-anchor="middle" fill="#333">EpCAM</text>
<text x="351.1" y="216.1" font-size="7.1" text-anchor="middle" fill="#333">CD73x</text>
<text x="351.1" y="223.5" font-size="7.1" text-anchor="middle" fill="#333">EpCAM</text>
<text x="376.4" y="223.5" font-size="7.1" text-anchor="middle" fill="#333">ole</text>
<path d="M203.3 233.3H215.7" stroke="#ed1c24" stroke-width="1.4"/><ellipse cx="209.5" cy="233.3" rx="2.25" ry="2.5" stroke="#ed1c24" stroke-width="1.3" fill="none"/>
<text x="235.8" y="234.8" font-size="8" text-anchor="middle" fill="#444">-</text>
<text x="264.7" y="234.8" font-size="8" text-anchor="middle" fill="#444">-</text>
<text x="290.0" y="234.8" font-size="8" text-anchor="middle" fill="#444">-</text>
<text x="319.7" y="234.8" font-size="8" text-anchor="middle" fill="#444">-</text>
<text x="350.5" y="234.8" font-size="8" text-anchor="middle" fill="#444">-</text>
<text x="375.8" y="234.8" font-size="8" text-anchor="middle" fill="#444">-</text>
<path d="M203.3 247.4H215.7" stroke="#f6861f" stroke-width="1.4"/><ellipse cx="209.5" cy="247.4" rx="2.25" ry="2.5" stroke="#f6861f" stroke-width="1.3" fill="none"/>
<text x="235.8" y="251.4" font-size="9.6" text-anchor="middle" fill="#444">+</text>
<text x="264.7" y="248.9" font-size="8" text-anchor="middle" fill="#444">-</text>
<text x="290.0" y="248.9" font-size="8" text-anchor="middle" fill="#444">-</text>
<text x="319.7" y="248.9" font-size="8" text-anchor="middle" fill="#444">-</text>
<text x="350.5" y="248.9" font-size="8" text-anchor="middle" fill="#444">-</text>
<text x="375.8" y="248.9" font-size="8" text-anchor="middle" fill="#444">-</text>
<path d="M203.3 262.1H215.7" stroke="#fff200" stroke-width="1.4"/><ellipse cx="209.5" cy="262.1" rx="2.25" ry="2.5" stroke="#fff200" stroke-width="1.3" fill="none"/>
<text x="235.8" y="266.1" font-size="9.6" text-anchor="middle" fill="#444">+</text>
<text x="264.7" y="266.1" font-size="9.6" text-anchor="middle" fill="#444">+</text>
<text x="290.0" y="263.6" font-size="8" text-anchor="middle" fill="#444">-</text>
<text x="319.7" y="263.6" font-size="8" text-anchor="middle" fill="#444">-</text>
<text x="350.5" y="263.6" font-size="8" text-anchor="middle" fill="#444">-</text>
<text x="375.8" y="263.6" font-size="8" text-anchor="middle" fill="#444">-</text>
<path d="M203.3 277.1H215.7" stroke="#0a9a47" stroke-width="1.4"/><ellipse cx="209.5" cy="277.1" rx="2.25" ry="2.5" stroke="#0a9a47" stroke-width="1.3" fill="none"/>
<text x="235.8" y="281.1" font-size="9.6" text-anchor="middle" fill="#444">+</text>
<text x="264.7" y="281.1" font-size="9.6" text-anchor="middle" fill="#444">+</text>
<text x="290.0" y="281.1" font-size="9.6" text-anchor="middle" fill="#444">+</text>
<text x="319.7" y="278.6" font-size="8" text-anchor="middle" fill="#444">-</text>
<text x="350.5" y="278.6" font-size="8" text-anchor="middle" fill="#444">-</text>
<text x="375.8" y="278.6" font-size="8" text-anchor="middle" fill="#444">-</text>
<path d="M203.3 292.3H215.7" stroke="#5f7fc4" stroke-width="1.4"/><ellipse cx="209.5" cy="292.3" rx="2.25" ry="2.5" stroke="#5f7fc4" stroke-width="1.3" fill="none"/>
<text x="235.8" y="296.3" font-size="9.6" text-anchor="middle" fill="#444">+</text>
<text x="264.7" y="296.3" font-size="9.6" text-anchor="middle" fill="#444">+</text>
<text x="290.0" y="293.8" font-size="8" text-anchor="middle" fill="#444">-</text>
<text x="319.7" y="296.3" font-size="9.6" text-anchor="middle" fill="#444">+</text>
<text x="350.5" y="293.8" font-size="8" text-anchor="middle" fill="#444">-</text>
<text x="375.8" y="293.8" font-size="8" text-anchor="middle" fill="#444">-</text>
<path d="M203.3 307.6H215.7" stroke="#bd7cb5" stroke-width="1.4"/><ellipse cx="209.5" cy="307.6" rx="2.25" ry="2.5" stroke="#bd7cb5" stroke-width="1.3" fill="none"/>
<text x="235.8" y="311.6" font-size="9.6" text-anchor="middle" fill="#444">+</text>
<text x="264.7" y="311.6" font-size="9.6" text-anchor="middle" fill="#444">+</text>
<text x="290.0" y="309.1" font-size="8" text-anchor="middle" fill="#444">-</text>
<text x="319.7" y="309.1" font-size="8" text-anchor="middle" fill="#444">-</text>
<text x="350.5" y="311.6" font-size="9.6" text-anchor="middle" fill="#444">+</text>
<text x="375.8" y="309.1" font-size="8" text-anchor="middle" fill="#444">-</text>
<path d="M203.3 322.9H215.7" stroke="#111111" stroke-width="1.4"/><ellipse cx="209.5" cy="322.9" rx="2.25" ry="2.5" stroke="#111111" stroke-width="1.3" fill="none"/>
<text x="235.8" y="326.9" font-size="9.6" text-anchor="middle" fill="#444">+</text>
<text x="264.7" y="326.9" font-size="9.6" text-anchor="middle" fill="#444">+</text>
<text x="290.0" y="324.4" font-size="8" text-anchor="middle" fill="#444">-</text>
<text x="319.7" y="324.4" font-size="8" text-anchor="middle" fill="#444">-</text>
<text x="350.5" y="324.4" font-size="8" text-anchor="middle" fill="#444">-</text>
<text x="375.8" y="326.9" font-size="9.6" text-anchor="middle" fill="#444">+</text>
<path d="M181.3 359.2V484M200.4 359.2V484M228.4 359.2V484M255.1 359.2V484M279.5 359.2V484M307 359.2V484M339.2 359.2V484M370.4 359.2V484M388.1 359.2V484M181.3 359.2H388.1M181.3 378.4H388.1M181.3 393.1H388.1M181.3 408.4H388.1M181.3 423.7H388.1M181.3 438.9H388.1M181.3 453.7H388.1M181.3 468.7H388.1M181.3 484H388.1" stroke="#222" stroke-width="1" fill="none"/>
<text x="214.4" y="375.5" font-size="7.1" text-anchor="middle" fill="#333">PBMCs</text>
<text x="241.8" y="375.5" font-size="7.1" text-anchor="middle" fill="#333">BIS-1</text>
<text x="267.3" y="375.5" font-size="7.1" text-anchor="middle" fill="#333">AMP</text>
<text x="293.2" y="368.1" font-size="7.1" text-anchor="middle" fill="#333">CD73x</text>
<text x="293.2" y="375.5" font-size="7.1" text-anchor="middle" fill="#333">Mock</text>
<text x="323.1" y="368.1" font-size="7.1" text-anchor="middle" fill="#333">Mockx</text>
<text x="323.1" y="375.5" font-size="7.1" text-anchor="middle" fill="#333">EpCAM</text>
<text x="354.8" y="368.1" font-size="7.1" text-anchor="middle" fill="#333">CD73x</text>
<text x="354.8" y="375.5" font-size="7.1" text-anchor="middle" fill="#333">EpCAM</text>
<text x="379.2" y="375.5" font-size="7.1" text-anchor="middle" fill="#333">ole</text>
<path d="M184.7 385.8H197.1" stroke="#ed1c24" stroke-width="1.4"/><ellipse cx="190.9" cy="385.8" rx="2.25" ry="2.5" stroke="#ed1c24" stroke-width="1.3" fill="none"/>
<text x="213.8" y="389.8" font-size="9.6" text-anchor="middle" fill="#444">+</text>
<text x="241.2" y="387.2" font-size="8" text-anchor="middle" fill="#444">-</text>
<text x="266.7" y="387.2" font-size="8" text-anchor="middle" fill="#444">-</text>
<text x="292.6" y="387.2" font-size="8" text-anchor="middle" fill="#444">-</text>
<text x="322.5" y="387.2" font-size="8" text-anchor="middle" fill="#444">-</text>
<text x="354.2" y="387.2" font-size="8" text-anchor="middle" fill="#444">-</text>
<text x="378.6" y="387.2" font-size="8" text-anchor="middle" fill="#444">-</text>
<path d="M184.7 400.8H197.1" stroke="#f6861f" stroke-width="1.4"/><ellipse cx="190.9" cy="400.8" rx="2.25" ry="2.5" stroke="#f6861f" stroke-width="1.3" fill="none"/>
<text x="213.8" y="404.8" font-size="9.6" text-anchor="middle" fill="#444">+</text>
<text x="241.2" y="404.8" font-size="9.6" text-anchor="middle" fill="#444">+</text>
<text x="266.7" y="402.2" font-size="8" text-anchor="middle" fill="#444">-</text>
<text x="292.6" y="402.2" font-size="8" text-anchor="middle" fill="#444">-</text>
<text x="322.5" y="402.2" font-size="8" text-anchor="middle" fill="#444">-</text>
<text x="354.2" y="402.2" font-size="8" text-anchor="middle" fill="#444">-</text>
<text x="378.6" y="402.2" font-size="8" text-anchor="middle" fill="#444">-</text>
<path d="M184.7 416.0H197.1" stroke="#fff200" stroke-width="1.4"/><ellipse cx="190.9" cy="416.0" rx="2.25" ry="2.5" stroke="#fff200" stroke-width="1.3" fill="none"/>
<text x="213.8" y="420.0" font-size="9.6" text-anchor="middle" fill="#444">+</text>
<text x="241.2" y="420.0" font-size="9.6" text-anchor="middle" fill="#444">+</text>
<text x="266.7" y="420.0" font-size="9.6" text-anchor="middle" fill="#444">+</text>
<text x="292.6" y="417.5" font-size="8" text-anchor="middle" fill="#444">-</text>
<text x="322.5" y="417.5" font-size="8" text-anchor="middle" fill="#444">-</text>
<text x="354.2" y="417.5" font-size="8" text-anchor="middle" fill="#444">-</text>
<text x="378.6" y="417.5" font-size="8" text-anchor="middle" fill="#444">-</text>
<path d="M184.7 431.3H197.1" stroke="#0a9a47" stroke-width="1.4"/><ellipse cx="190.9" cy="431.3" rx="2.25" ry="2.5" stroke="#0a9a47" stroke-width="1.3" fill="none"/>
<text x="213.8" y="435.3" font-size="9.6" text-anchor="middle" fill="#444">+</text>
<text x="241.2" y="435.3" font-size="9.6" text-anchor="middle" fill="#444">+</text>
<text x="266.7" y="435.3" font-size="9.6" text-anchor="middle" fill="#444">+</text>
<text x="292.6" y="435.3" font-size="9.6" text-anchor="middle" fill="#444">+</text>
<text x="322.5" y="432.8" font-size="8" text-anchor="middle" fill="#444">-</text>
<text x="354.2" y="432.8" font-size="8" text-anchor="middle" fill="#444">-</text>
<text x="378.6" y="432.8" font-size="8" text-anchor="middle" fill="#444">-</text>
<path d="M184.7 446.3H197.1" stroke="#5f7fc4" stroke-width="1.4"/><ellipse cx="190.9" cy="446.3" rx="2.25" ry="2.5" stroke="#5f7fc4" stroke-width="1.3" fill="none"/>
<text x="213.8" y="450.3" font-size="9.6" text-anchor="middle" fill="#444">+</text>
<text x="241.2" y="450.3" font-size="9.6" text-anchor="middle" fill="#444">+</text>
<text x="266.7" y="450.3" font-size="9.6" text-anchor="middle" fill="#444">+</text>
<text x="292.6" y="447.8" font-size="8" text-anchor="middle" fill="#444">-</text>
<text x="322.5" y="450.3" font-size="9.6" text-anchor="middle" fill="#444">+</text>
<text x="354.2" y="447.8" font-size="8" text-anchor="middle" fill="#444">-</text>
<text x="378.6" y="447.8" font-size="8" text-anchor="middle" fill="#444">-</text>
<path d="M184.7 461.2H197.1" stroke="#bd7cb5" stroke-width="1.4"/><ellipse cx="190.9" cy="461.2" rx="2.25" ry="2.5" stroke="#bd7cb5" stroke-width="1.3" fill="none"/>
<text x="213.8" y="465.2" font-size="9.6" text-anchor="middle" fill="#444">+</text>
<text x="241.2" y="465.2" font-size="9.6" text-anchor="middle" fill="#444">+</text>
<text x="266.7" y="465.2" font-size="9.6" text-anchor="middle" fill="#444">+</text>
<text x="292.6" y="462.7" font-size="8" text-anchor="middle" fill="#444">-</text>
<text x="322.5" y="462.7" font-size="8" text-anchor="middle" fill="#444">-</text>
<text x="354.2" y="465.2" font-size="9.6" text-anchor="middle" fill="#444">+</text>
<text x="378.6" y="462.7" font-size="8" text-anchor="middle" fill="#444">-</text>
<path d="M184.7 476.4H197.1" stroke="#111111" stroke-width="1.4"/><ellipse cx="190.9" cy="476.4" rx="2.25" ry="2.5" stroke="#111111" stroke-width="1.3" fill="none"/>
<text x="213.8" y="480.4" font-size="9.6" text-anchor="middle" fill="#444">+</text>
<text x="241.2" y="480.4" font-size="9.6" text-anchor="middle" fill="#444">+</text>
<text x="266.7" y="480.4" font-size="9.6" text-anchor="middle" fill="#444">+</text>
<text x="292.6" y="477.9" font-size="8" text-anchor="middle" fill="#444">-</text>
<text x="322.5" y="477.9" font-size="8" text-anchor="middle" fill="#444">-</text>
<text x="354.2" y="477.9" font-size="8" text-anchor="middle" fill="#444">-</text>
<text x="378.6" y="480.4" font-size="9.6" text-anchor="middle" fill="#444">+</text>
<path d="M46.8 364.59999999999997V481.3H162.6" stroke="#111" stroke-width="1.4" fill="none"/>
<path d="M41.599999999999994 481.3H46.8" stroke="#111" stroke-width="1.2"/>
<text x="39.8" y="484.4" font-size="8.8" text-anchor="end" fill="#222">0</text>
<path d="M41.599999999999994 452.3H46.8" stroke="#111" stroke-width="1.2"/>
<text x="39.8" y="455.4" font-size="8.8" text-anchor="end" fill="#222">25</text>
<path d="M41.599999999999994 423.2H46.8" stroke="#111" stroke-width="1.2"/>
<text x="39.8" y="426.4" font-size="8.8" text-anchor="end" fill="#222">50</text>
<path d="M41.599999999999994 394.2H46.8" stroke="#111" stroke-width="1.2"/>
<text x="39.8" y="397.4" font-size="8.8" text-anchor="end" fill="#222">75</text>
<path d="M41.599999999999994 365.2H46.8" stroke="#111" stroke-width="1.2"/>
<text x="39.8" y="368.3" font-size="8.8" text-anchor="end" fill="#222">100</text>
<path d="M46.8 481.3V485.5" stroke="#111" stroke-width="1.2"/>
<text x="46.8" y="496.3" font-size="9" text-anchor="middle" fill="#222">0:1</text>
<path d="M75.7 481.3V485.5" stroke="#111" stroke-width="1.2"/>
<text x="75.7" y="496.3" font-size="9" text-anchor="middle" fill="#222">1:2</text>
<path d="M104.5 481.3V485.5" stroke="#111" stroke-width="1.2"/>
<text x="104.5" y="496.3" font-size="9" text-anchor="middle" fill="#222">1:1</text>
<path d="M133.2 481.3V485.5" stroke="#111" stroke-width="1.2"/>
<text x="133.2" y="496.3" font-size="9" text-anchor="middle" fill="#222">2:1</text>
<path d="M162.0 481.3V485.5" stroke="#111" stroke-width="1.2"/>
<text x="162.0" y="496.3" font-size="9" text-anchor="middle" fill="#222">4:1</text>
<text x="104.6" y="510.8" font-size="9.2" text-anchor="middle" fill="#222">E:T ratio</text>
<text x="49.3" y="370.8" font-size="8" fill="#333">OvCAR3</text>
<text transform="translate(22.1 477.6) rotate(-90)" font-size="9.3" fill="#222">apoptosis</text>
<text transform="translate(22.1 371.9) rotate(-90)" font-size="9.3" text-anchor="end" fill="#222">(% AnnV-PI<tspan font-size="4.6" dy="-3.8">[pos]</tspan><tspan dy="3.8">)</tspan></text>
<path d="M162.0 387.2V381.9M159.8 381.9H164.2" stroke="#111111" stroke-width="1.20" fill="none" opacity="0.95"/><path d="M46.8 478.3L75.7 460.7L104.5 447.4L133.2 423.7L162.0 387.2" stroke="#111111" stroke-width="1.5" fill="none" stroke-linejoin="round"/><circle cx="46.8" cy="478.3" r="2.5" stroke="#111111" stroke-width="1.2" fill="none"/><circle cx="75.7" cy="460.7" r="2.5" stroke="#111111" stroke-width="1.2" fill="none"/><circle cx="104.5" cy="447.4" r="2.5" stroke="#111111" stroke-width="1.2" fill="none"/><circle cx="133.2" cy="423.7" r="2.5" stroke="#111111" stroke-width="1.2" fill="none"/><circle cx="162.0" cy="387.2" r="2.5" stroke="#111111" stroke-width="1.2" fill="none"/>
<path d="M133.2 413.1V406.5M131.0 406.5H135.4" stroke="#bd7cb5" stroke-width="1.20" fill="none" opacity="0.95"/><path d="M162.0 374.8V364.2M159.8 364.2H164.2" stroke="#bd7cb5" stroke-width="1.20" fill="none" opacity="0.95"/><path d="M46.8 478.3L75.7 454.0L104.5 438.2L133.2 413.1L162.0 374.8" stroke="#bd7cb5" stroke-width="1.5" fill="none" stroke-linejoin="round"/><circle cx="46.8" cy="478.3" r="2.5" stroke="#bd7cb5" stroke-width="1.2" fill="none"/><circle cx="75.7" cy="454.0" r="2.5" stroke="#bd7cb5" stroke-width="1.2" fill="none"/><circle cx="104.5" cy="438.2" r="2.5" stroke="#bd7cb5" stroke-width="1.2" fill="none"/><circle cx="133.2" cy="413.1" r="2.5" stroke="#bd7cb5" stroke-width="1.2" fill="none"/><circle cx="162.0" cy="374.8" r="2.5" stroke="#bd7cb5" stroke-width="1.2" fill="none"/>
<path d="M104.5 473.9V466.7M102.3 466.7H106.7" stroke="#5f7fc4" stroke-width="1.20" fill="none" opacity="0.95"/><path d="M46.8 478.3L75.7 472.5L104.5 473.9L133.2 450.9L162.0 449.6" stroke="#5f7fc4" stroke-width="1.5" fill="none" stroke-linejoin="round"/><circle cx="46.8" cy="478.3" r="2.5" stroke="#5f7fc4" stroke-width="1.2" fill="none"/><circle cx="75.7" cy="472.5" r="2.5" stroke="#5f7fc4" stroke-width="1.2" fill="none"/><circle cx="104.5" cy="473.9" r="2.5" stroke="#5f7fc4" stroke-width="1.2" fill="none"/><circle cx="133.2" cy="450.9" r="2.5" stroke="#5f7fc4" stroke-width="1.2" fill="none"/><circle cx="162.0" cy="449.6" r="2.5" stroke="#5f7fc4" stroke-width="1.2" fill="none"/>
<path d="M46.8 478.3L75.7 472.5L104.5 447.4L133.2 444.8L162.0 425.5" stroke="#0a9a47" stroke-width="1.5" fill="none" stroke-linejoin="round"/><circle cx="46.8" cy="478.3" r="2.5" stroke="#0a9a47" stroke-width="1.2" fill="none"/><circle cx="75.7" cy="472.5" r="2.5" stroke="#0a9a47" stroke-width="1.2" fill="none"/><circle cx="104.5" cy="447.4" r="2.5" stroke="#0a9a47" stroke-width="1.2" fill="none"/><circle cx="133.2" cy="444.8" r="2.5" stroke="#0a9a47" stroke-width="1.2" fill="none"/><circle cx="162.0" cy="425.5" r="2.5" stroke="#0a9a47" stroke-width="1.2" fill="none"/>
<path d="M162.0 446.1V434.8M159.8 434.8H164.2" stroke="#fff200" stroke-width="1.20" fill="none" opacity="0.95"/><path d="M46.8 479.1L75.7 480.5L104.5 473.9L133.2 450.6L162.0 446.1" stroke="#fff200" stroke-width="1.5" fill="none" stroke-linejoin="round"/><circle cx="46.8" cy="479.1" r="2.5" stroke="#fff200" stroke-width="1.2" fill="none"/><circle cx="75.7" cy="480.5" r="2.5" stroke="#fff200" stroke-width="1.2" fill="none"/><circle cx="104.5" cy="473.9" r="2.5" stroke="#fff200" stroke-width="1.2" fill="none"/><circle cx="133.2" cy="450.6" r="2.5" stroke="#fff200" stroke-width="1.2" fill="none"/><circle cx="162.0" cy="446.1" r="2.5" stroke="#fff200" stroke-width="1.2" fill="none"/>
<path d="M133.2 396.7V392.0M131.0 392.0H135.4" stroke="#f6861f" stroke-width="1.20" fill="none" opacity="0.95"/><path d="M162.0 372.2V364.6M159.8 364.6H164.2" stroke="#f6861f" stroke-width="1.20" fill="none" opacity="0.95"/><path d="M46.8 478.3L75.7 467.3L104.5 443.5L133.2 396.7L162.0 372.2" stroke="#f6861f" stroke-width="1.5" fill="none" stroke-linejoin="round"/><circle cx="46.8" cy="478.3" r="2.5" stroke="#f6861f" stroke-width="1.2" fill="none"/><circle cx="75.7" cy="467.3" r="2.5" stroke="#f6861f" stroke-width="1.2" fill="none"/><circle cx="104.5" cy="443.5" r="2.5" stroke="#f6861f" stroke-width="1.2" fill="none"/><circle cx="133.2" cy="396.7" r="2.5" stroke="#f6861f" stroke-width="1.2" fill="none"/><circle cx="162.0" cy="372.2" r="2.5" stroke="#f6861f" stroke-width="1.2" fill="none"/>
<path d="M46.8 478.3L75.7 476.8L104.5 481.3L133.2 481.8L162.0 478.3" stroke="#ed1c24" stroke-width="1.5" fill="none" stroke-linejoin="round"/><circle cx="46.8" cy="478.3" r="2.5" stroke="#ed1c24" stroke-width="1.2" fill="none"/><circle cx="75.7" cy="476.8" r="2.5" stroke="#ed1c24" stroke-width="1.2" fill="none"/><circle cx="104.5" cy="481.3" r="2.5" stroke="#ed1c24" stroke-width="1.2" fill="none"/><circle cx="133.2" cy="481.8" r="2.5" stroke="#ed1c24" stroke-width="1.2" fill="none"/><circle cx="162.0" cy="478.3" r="2.5" stroke="#ed1c24" stroke-width="1.2" fill="none"/>
<path d="M427.6 366.0V482.9H524.3" stroke="#111" stroke-width="1.3" fill="none"/>
<path d="M422.40000000000003 482.9H427.6" stroke="#111" stroke-width="1.1"/>
<text x="421.3" y="486.1" font-size="9" text-anchor="end" fill="#222">0</text>
<path d="M422.40000000000003 444.1H427.6" stroke="#111" stroke-width="1.1"/>
<text x="421.3" y="447.3" font-size="9" text-anchor="end" fill="#222">1</text>
<path d="M422.40000000000003 405.4H427.6" stroke="#111" stroke-width="1.1"/>
<text x="421.3" y="408.6" font-size="9" text-anchor="end" fill="#222">2</text>
<path d="M422.40000000000003 366.6H427.6" stroke="#111" stroke-width="1.1"/>
<text x="421.3" y="369.8" font-size="9" text-anchor="end" fill="#222">3</text>
<text x="410.8" y="360.8" font-size="7" fill="#444">(x10<tspan font-size="4.5" dy="-2.4">3</tspan><tspan dy="2.4">)</tspan></text>
<text transform="translate(411 451.6) rotate(-90)" font-size="9" fill="#222">[IFN-γ]</text>
<text transform="translate(411 397.3) rotate(-90)" font-size="9" text-anchor="end" fill="#222">pg/ml</text>
<rect x="432.1" y="465.9" width="8.3" height="17.0" fill="#e8262a" stroke="#111" stroke-width="1.05"/>
<path d="M435.6 482.9V487.5" stroke="#111" stroke-width="1.2"/>
<text transform="translate(437.3 492.9) rotate(-45)" font-size="8.1" text-anchor="end" fill="#333">PBMCs</text>
<rect x="445.3" y="383.1" width="8.3" height="99.8" fill="#f58220" stroke="#111" stroke-width="1.05"/>
<path d="M448.9 482.9V487.5" stroke="#111" stroke-width="1.2"/>
<text transform="translate(450.6 492.9) rotate(-45)" font-size="8.1" text-anchor="end" fill="#333">BIS-1</text>
<path d="M462.1 453.9V449.3M459.70000000000005 449.3H464.5" stroke="#fff200" stroke-width="1" fill="none"/>
<rect x="458.6" y="453.9" width="8.3" height="29.0" fill="#fff200" stroke="#111" stroke-width="1.05"/>
<path d="M462.1 482.9V487.5" stroke="#111" stroke-width="1.2"/>
<text transform="translate(463.8 492.9) rotate(-45)" font-size="8.1" text-anchor="end" fill="#333">AMP</text>
<path d="M475.2 425.1V421.3M472.8 421.3H477.59999999999997" stroke="#4d7c5a" stroke-width="1" fill="none"/>
<rect x="471.6" y="425.1" width="8.3" height="57.8" fill="#4d7c5a" stroke="#111" stroke-width="1.05"/>
<path d="M475.2 482.9V487.5" stroke="#111" stroke-width="1.2"/>
<text transform="translate(476.9 492.9) rotate(-45)" font-size="8.1" text-anchor="end" fill="#333">bsAb CD73xMock</text>
<path d="M488.3 450.1V448.8M485.90000000000003 448.8H490.7" stroke="#5b7fc0" stroke-width="1" fill="none"/>
<rect x="484.8" y="450.1" width="8.3" height="32.8" fill="#5b7fc0" stroke="#111" stroke-width="1.05"/>
<path d="M488.3 482.9V487.5" stroke="#111" stroke-width="1.2"/>
<text transform="translate(490.0 492.9) rotate(-45)" font-size="8.1" text-anchor="end" fill="#333">bsAb MockxEpCAM</text>
<path d="M501.7 386.2V382.3M499.3 382.3H504.09999999999997" stroke="#b476b0" stroke-width="1" fill="none"/>
<rect x="498.1" y="386.2" width="8.3" height="96.7" fill="#b476b0" stroke="#111" stroke-width="1.05"/>
<path d="M501.7 482.9V487.5" stroke="#111" stroke-width="1.2"/>
<text transform="translate(503.4 492.9) rotate(-45)" font-size="8.1" text-anchor="end" fill="#333">bsAb CD73xEpCAM</text>
<path d="M514.8 434.1V432.3M512.4 432.3H517.1999999999999" stroke="#111111" stroke-width="1" fill="none"/>
<rect x="511.2" y="434.1" width="8.3" height="48.8" fill="#111111" stroke="#111" stroke-width="1.05"/>
<path d="M514.8 482.9V487.5" stroke="#111" stroke-width="1.2"/>
<text transform="translate(516.5 492.9) rotate(-45)" font-size="8.1" text-anchor="end" fill="#333">oleclumab</text>
<path d="M462.5 378.6H500.7M502 374.8H514.9" stroke="#555" stroke-width="1.15"/>
<text x="482.9" y="378.6" font-size="9" text-anchor="middle" fill="#444">**</text>
<text x="508.3" y="374.4" font-size="9" text-anchor="middle" fill="#444">**</text>
</g>
</svg></body></html>
